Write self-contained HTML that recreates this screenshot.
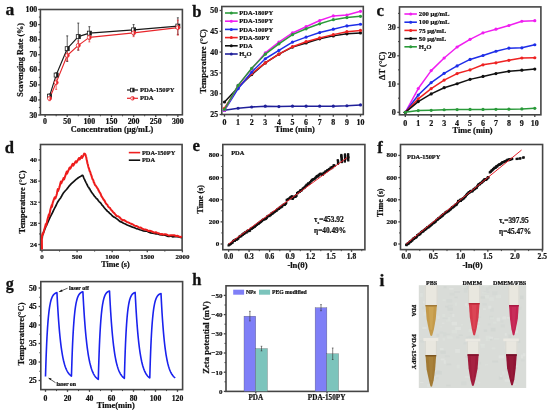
<!DOCTYPE html>
<html><head><meta charset="utf-8"><style>
html,body{margin:0;padding:0;background:#fff;}
svg{display:block;filter:blur(0.4px);}
text{font-family:"Liberation Serif", serif;}
</style></head><body>
<svg width="550" height="414" viewBox="0 0 550 414">
<rect width="550" height="414" fill="#fff"/>
<text x="5.50" y="15.20" font-size="17.6" text-anchor="start" fill="#111" stroke="#111" stroke-width="0.3" font-weight="bold">a</text>
<text x="192.30" y="16.50" font-size="16.6" text-anchor="start" fill="#111" stroke="#111" stroke-width="0.3" font-weight="bold">b</text>
<text x="376.50" y="15.50" font-size="16.8" text-anchor="start" fill="#111" stroke="#111" stroke-width="0.3" font-weight="bold">c</text>
<text x="4.80" y="152.50" font-size="16.6" text-anchor="start" fill="#111" stroke="#111" stroke-width="0.3" font-weight="bold">d</text>
<text x="192.60" y="150.50" font-size="16.8" text-anchor="start" fill="#111" stroke="#111" stroke-width="0.3" font-weight="bold">e</text>
<text x="377.30" y="152.50" font-size="16.6" text-anchor="start" fill="#111" stroke="#111" stroke-width="0.3" font-weight="bold">f</text>
<text x="5.80" y="288.90" font-size="16" text-anchor="start" fill="#111" stroke="#111" stroke-width="0.3" font-weight="bold">g</text>
<text x="192.30" y="285.40" font-size="16.4" text-anchor="start" fill="#111" stroke="#111" stroke-width="0.3" font-weight="bold">h</text>
<text x="379.50" y="285.80" font-size="17.5" text-anchor="start" fill="#111" stroke="#111" stroke-width="0.3" font-weight="bold">i</text>
<rect x="40.4" y="9.5" width="142.0" height="105.3" fill="none" stroke="#454545" stroke-width="1.6"/>
<line x1="38.20" y1="115.00" x2="40.40" y2="115.00" stroke="#454545" stroke-width="1.3"/>
<text x="37.30" y="117.50" font-size="7.9" text-anchor="end" fill="#111" stroke="#111" stroke-width="0.22" font-weight="bold">30</text>
<line x1="38.20" y1="99.93" x2="40.40" y2="99.93" stroke="#454545" stroke-width="1.3"/>
<text x="37.30" y="102.43" font-size="7.9" text-anchor="end" fill="#111" stroke="#111" stroke-width="0.22" font-weight="bold">40</text>
<line x1="38.20" y1="84.86" x2="40.40" y2="84.86" stroke="#454545" stroke-width="1.3"/>
<text x="37.30" y="87.36" font-size="7.9" text-anchor="end" fill="#111" stroke="#111" stroke-width="0.22" font-weight="bold">50</text>
<line x1="38.20" y1="69.79" x2="40.40" y2="69.79" stroke="#454545" stroke-width="1.3"/>
<text x="37.30" y="72.29" font-size="7.9" text-anchor="end" fill="#111" stroke="#111" stroke-width="0.22" font-weight="bold">60</text>
<line x1="38.20" y1="54.72" x2="40.40" y2="54.72" stroke="#454545" stroke-width="1.3"/>
<text x="37.30" y="57.22" font-size="7.9" text-anchor="end" fill="#111" stroke="#111" stroke-width="0.22" font-weight="bold">70</text>
<line x1="38.20" y1="39.65" x2="40.40" y2="39.65" stroke="#454545" stroke-width="1.3"/>
<text x="37.30" y="42.15" font-size="7.9" text-anchor="end" fill="#111" stroke="#111" stroke-width="0.22" font-weight="bold">80</text>
<line x1="38.20" y1="24.58" x2="40.40" y2="24.58" stroke="#454545" stroke-width="1.3"/>
<text x="37.30" y="27.08" font-size="7.9" text-anchor="end" fill="#111" stroke="#111" stroke-width="0.22" font-weight="bold">90</text>
<line x1="38.20" y1="9.51" x2="40.40" y2="9.51" stroke="#454545" stroke-width="1.3"/>
<text x="37.30" y="12.01" font-size="7.9" text-anchor="end" fill="#111" stroke="#111" stroke-width="0.22" font-weight="bold">100</text>
<line x1="38.90" y1="107.47" x2="40.40" y2="107.47" stroke="#454545" stroke-width="1"/>
<line x1="38.90" y1="92.40" x2="40.40" y2="92.40" stroke="#454545" stroke-width="1"/>
<line x1="38.90" y1="77.33" x2="40.40" y2="77.33" stroke="#454545" stroke-width="1"/>
<line x1="38.90" y1="62.26" x2="40.40" y2="62.26" stroke="#454545" stroke-width="1"/>
<line x1="38.90" y1="47.19" x2="40.40" y2="47.19" stroke="#454545" stroke-width="1"/>
<line x1="38.90" y1="32.12" x2="40.40" y2="32.12" stroke="#454545" stroke-width="1"/>
<line x1="38.90" y1="17.05" x2="40.40" y2="17.05" stroke="#454545" stroke-width="1"/>
<line x1="45.10" y1="114.80" x2="45.10" y2="117.00" stroke="#454545" stroke-width="1.3"/>
<text x="45.10" y="124.20" font-size="7.9" text-anchor="middle" fill="#111" stroke="#111" stroke-width="0.22" font-weight="bold">0</text>
<line x1="67.22" y1="114.80" x2="67.22" y2="117.00" stroke="#454545" stroke-width="1.3"/>
<text x="67.22" y="124.20" font-size="7.9" text-anchor="middle" fill="#111" stroke="#111" stroke-width="0.22" font-weight="bold">50</text>
<line x1="89.35" y1="114.80" x2="89.35" y2="117.00" stroke="#454545" stroke-width="1.3"/>
<text x="89.35" y="124.20" font-size="7.9" text-anchor="middle" fill="#111" stroke="#111" stroke-width="0.22" font-weight="bold">100</text>
<line x1="111.47" y1="114.80" x2="111.47" y2="117.00" stroke="#454545" stroke-width="1.3"/>
<text x="111.47" y="124.20" font-size="7.9" text-anchor="middle" fill="#111" stroke="#111" stroke-width="0.22" font-weight="bold">150</text>
<line x1="133.60" y1="114.80" x2="133.60" y2="117.00" stroke="#454545" stroke-width="1.3"/>
<text x="133.60" y="124.20" font-size="7.9" text-anchor="middle" fill="#111" stroke="#111" stroke-width="0.22" font-weight="bold">200</text>
<line x1="155.72" y1="114.80" x2="155.72" y2="117.00" stroke="#454545" stroke-width="1.3"/>
<text x="155.72" y="124.20" font-size="7.9" text-anchor="middle" fill="#111" stroke="#111" stroke-width="0.22" font-weight="bold">250</text>
<line x1="177.85" y1="114.80" x2="177.85" y2="117.00" stroke="#454545" stroke-width="1.3"/>
<text x="177.85" y="124.20" font-size="7.9" text-anchor="middle" fill="#111" stroke="#111" stroke-width="0.22" font-weight="bold">300</text>
<line x1="56.16" y1="114.80" x2="56.16" y2="116.30" stroke="#454545" stroke-width="1"/>
<line x1="78.29" y1="114.80" x2="78.29" y2="116.30" stroke="#454545" stroke-width="1"/>
<line x1="100.41" y1="114.80" x2="100.41" y2="116.30" stroke="#454545" stroke-width="1"/>
<line x1="122.54" y1="114.80" x2="122.54" y2="116.30" stroke="#454545" stroke-width="1"/>
<line x1="144.66" y1="114.80" x2="144.66" y2="116.30" stroke="#454545" stroke-width="1"/>
<line x1="166.79" y1="114.80" x2="166.79" y2="116.30" stroke="#454545" stroke-width="1"/>
<text x="23.00" y="59.80" font-size="8.2" text-anchor="middle" fill="#111" stroke="#111" stroke-width="0.22" font-weight="bold" transform="rotate(-90 23 59.8)">Scavenging Rate (%)</text>
<text x="112.00" y="132.00" font-size="8.3" text-anchor="middle" fill="#111" stroke="#111" stroke-width="0.22" font-weight="bold">Concentration (μg/mL)</text>
<line x1="49.52" y1="98.42" x2="49.52" y2="93.90" stroke="#1a1a1a" stroke-width="0.7"/>
<line x1="48.52" y1="98.42" x2="50.52" y2="98.42" stroke="#1a1a1a" stroke-width="0.7"/>
<line x1="48.52" y1="93.90" x2="50.52" y2="93.90" stroke="#1a1a1a" stroke-width="0.7"/>
<line x1="56.16" y1="77.33" x2="56.16" y2="72.80" stroke="#1a1a1a" stroke-width="0.7"/>
<line x1="55.16" y1="77.33" x2="57.16" y2="77.33" stroke="#1a1a1a" stroke-width="0.7"/>
<line x1="55.16" y1="72.80" x2="57.16" y2="72.80" stroke="#1a1a1a" stroke-width="0.7"/>
<line x1="67.22" y1="61.50" x2="67.22" y2="35.88" stroke="#1a1a1a" stroke-width="0.7"/>
<line x1="66.22" y1="61.50" x2="68.22" y2="61.50" stroke="#1a1a1a" stroke-width="0.7"/>
<line x1="66.22" y1="35.88" x2="68.22" y2="35.88" stroke="#1a1a1a" stroke-width="0.7"/>
<line x1="78.29" y1="50.20" x2="78.29" y2="23.07" stroke="#1a1a1a" stroke-width="0.7"/>
<line x1="77.29" y1="50.20" x2="79.29" y2="50.20" stroke="#1a1a1a" stroke-width="0.7"/>
<line x1="77.29" y1="23.07" x2="79.29" y2="23.07" stroke="#1a1a1a" stroke-width="0.7"/>
<line x1="89.35" y1="39.65" x2="89.35" y2="26.69" stroke="#1a1a1a" stroke-width="0.7"/>
<line x1="88.35" y1="39.65" x2="90.35" y2="39.65" stroke="#1a1a1a" stroke-width="0.7"/>
<line x1="88.35" y1="26.69" x2="90.35" y2="26.69" stroke="#1a1a1a" stroke-width="0.7"/>
<line x1="133.60" y1="35.13" x2="133.60" y2="24.58" stroke="#1a1a1a" stroke-width="0.7"/>
<line x1="132.60" y1="35.13" x2="134.60" y2="35.13" stroke="#1a1a1a" stroke-width="0.7"/>
<line x1="132.60" y1="24.58" x2="134.60" y2="24.58" stroke="#1a1a1a" stroke-width="0.7"/>
<line x1="177.85" y1="34.38" x2="177.85" y2="17.80" stroke="#1a1a1a" stroke-width="0.7"/>
<line x1="176.85" y1="34.38" x2="178.85" y2="34.38" stroke="#1a1a1a" stroke-width="0.7"/>
<line x1="176.85" y1="17.80" x2="178.85" y2="17.80" stroke="#1a1a1a" stroke-width="0.7"/>
<line x1="49.52" y1="100.68" x2="49.52" y2="96.16" stroke="#e8252a" stroke-width="0.7"/>
<line x1="48.52" y1="100.68" x2="50.52" y2="100.68" stroke="#e8252a" stroke-width="0.7"/>
<line x1="48.52" y1="96.16" x2="50.52" y2="96.16" stroke="#e8252a" stroke-width="0.7"/>
<line x1="56.16" y1="89.38" x2="56.16" y2="75.82" stroke="#e8252a" stroke-width="0.7"/>
<line x1="55.16" y1="89.38" x2="57.16" y2="89.38" stroke="#e8252a" stroke-width="0.7"/>
<line x1="55.16" y1="75.82" x2="57.16" y2="75.82" stroke="#e8252a" stroke-width="0.7"/>
<line x1="67.22" y1="60.75" x2="67.22" y2="50.20" stroke="#e8252a" stroke-width="0.7"/>
<line x1="66.22" y1="60.75" x2="68.22" y2="60.75" stroke="#e8252a" stroke-width="0.7"/>
<line x1="66.22" y1="50.20" x2="68.22" y2="50.20" stroke="#e8252a" stroke-width="0.7"/>
<line x1="78.29" y1="49.90" x2="78.29" y2="40.86" stroke="#e8252a" stroke-width="0.7"/>
<line x1="77.29" y1="49.90" x2="79.29" y2="49.90" stroke="#e8252a" stroke-width="0.7"/>
<line x1="77.29" y1="40.86" x2="79.29" y2="40.86" stroke="#e8252a" stroke-width="0.7"/>
<line x1="89.35" y1="41.91" x2="89.35" y2="32.87" stroke="#e8252a" stroke-width="0.7"/>
<line x1="88.35" y1="41.91" x2="90.35" y2="41.91" stroke="#e8252a" stroke-width="0.7"/>
<line x1="88.35" y1="32.87" x2="90.35" y2="32.87" stroke="#e8252a" stroke-width="0.7"/>
<line x1="133.60" y1="36.64" x2="133.60" y2="29.10" stroke="#e8252a" stroke-width="0.7"/>
<line x1="132.60" y1="36.64" x2="134.60" y2="36.64" stroke="#e8252a" stroke-width="0.7"/>
<line x1="132.60" y1="29.10" x2="134.60" y2="29.10" stroke="#e8252a" stroke-width="0.7"/>
<line x1="177.85" y1="35.13" x2="177.85" y2="20.06" stroke="#e8252a" stroke-width="0.7"/>
<line x1="176.85" y1="35.13" x2="178.85" y2="35.13" stroke="#e8252a" stroke-width="0.7"/>
<line x1="176.85" y1="20.06" x2="178.85" y2="20.06" stroke="#e8252a" stroke-width="0.7"/>
<polyline points="49.52,96.16 56.16,75.06 67.22,48.69 78.29,36.64 89.35,33.17 133.60,29.85 177.85,26.09" fill="none" stroke="#1a1a1a" stroke-width="1.15" stroke-linejoin="round"/>
<polyline points="49.52,98.42 56.16,82.60 67.22,55.47 78.29,45.38 89.35,37.39 133.60,32.87 177.85,27.59" fill="none" stroke="#e8252a" stroke-width="1.15" stroke-linejoin="round"/>
<rect x="47.52" y="94.16" width="4" height="4" fill="#fff" stroke="#1a1a1a" stroke-width="0.8"/>
<rect x="49.52" y="94.16" width="2.00" height="4.00" fill="#1a1a1a"/>
<rect x="54.16" y="73.06" width="4" height="4" fill="#fff" stroke="#1a1a1a" stroke-width="0.8"/>
<rect x="56.16" y="73.06" width="2.00" height="4.00" fill="#1a1a1a"/>
<rect x="65.22" y="46.69" width="4" height="4" fill="#fff" stroke="#1a1a1a" stroke-width="0.8"/>
<rect x="67.22" y="46.69" width="2.00" height="4.00" fill="#1a1a1a"/>
<rect x="76.29" y="34.64" width="4" height="4" fill="#fff" stroke="#1a1a1a" stroke-width="0.8"/>
<rect x="78.29" y="34.64" width="2.00" height="4.00" fill="#1a1a1a"/>
<rect x="87.35" y="31.17" width="4" height="4" fill="#fff" stroke="#1a1a1a" stroke-width="0.8"/>
<rect x="89.35" y="31.17" width="2.00" height="4.00" fill="#1a1a1a"/>
<rect x="131.60" y="27.85" width="4" height="4" fill="#fff" stroke="#1a1a1a" stroke-width="0.8"/>
<rect x="133.60" y="27.85" width="2.00" height="4.00" fill="#1a1a1a"/>
<rect x="175.85" y="24.09" width="4" height="4" fill="#fff" stroke="#1a1a1a" stroke-width="0.8"/>
<rect x="177.85" y="24.09" width="2.00" height="4.00" fill="#1a1a1a"/>
<circle cx="49.52" cy="98.42" r="2" fill="#fff" stroke="#e8252a" stroke-width="0.8"/>
<path d="M49.52,96.42 A2,2 0 0 1 49.52,100.42 Z" fill="#e8252a"/>
<circle cx="56.16" cy="82.60" r="2" fill="#fff" stroke="#e8252a" stroke-width="0.8"/>
<path d="M56.16,80.60 A2,2 0 0 1 56.16,84.60 Z" fill="#e8252a"/>
<circle cx="67.22" cy="55.47" r="2" fill="#fff" stroke="#e8252a" stroke-width="0.8"/>
<path d="M67.22,53.47 A2,2 0 0 1 67.22,57.47 Z" fill="#e8252a"/>
<circle cx="78.29" cy="45.38" r="2" fill="#fff" stroke="#e8252a" stroke-width="0.8"/>
<path d="M78.29,43.38 A2,2 0 0 1 78.29,47.38 Z" fill="#e8252a"/>
<circle cx="89.35" cy="37.39" r="2" fill="#fff" stroke="#e8252a" stroke-width="0.8"/>
<path d="M89.35,35.39 A2,2 0 0 1 89.35,39.39 Z" fill="#e8252a"/>
<circle cx="133.60" cy="32.87" r="2" fill="#fff" stroke="#e8252a" stroke-width="0.8"/>
<path d="M133.60,30.87 A2,2 0 0 1 133.60,34.87 Z" fill="#e8252a"/>
<circle cx="177.85" cy="27.59" r="2" fill="#fff" stroke="#e8252a" stroke-width="0.8"/>
<path d="M177.85,25.59 A2,2 0 0 1 177.85,29.59 Z" fill="#e8252a"/>
<line x1="127.00" y1="90.00" x2="138.00" y2="90.00" stroke="#1a1a1a" stroke-width="1.2"/>
<rect x="130.5" y="88.2" width="3.6" height="3.6" fill="#fff" stroke="#1a1a1a" stroke-width="0.8"/>
<rect x="132.30" y="88.20" width="1.80" height="3.60" fill="#1a1a1a"/>
<text x="140.00" y="92.00" font-size="6.6" text-anchor="start" fill="#111" stroke="#111" stroke-width="0.22" font-weight="bold">PDA-150PY</text>
<line x1="127.00" y1="98.30" x2="138.00" y2="98.30" stroke="#e8252a" stroke-width="1.2"/>
<circle cx="132.5" cy="98.3" r="1.8" fill="#fff" stroke="#e8252a" stroke-width="0.8"/>
<path d="M132.5,96.5 A1.8,1.8 0 0 1 132.5,100.1 Z" fill="#e8252a"/>
<text x="140.00" y="100.00" font-size="6.6" text-anchor="start" fill="#111" stroke="#111" stroke-width="0.22" font-weight="bold">PDA</text>
<rect x="221.8" y="6.5" width="141.5" height="108.0" fill="none" stroke="#454545" stroke-width="1.6"/>
<line x1="219.60" y1="114.50" x2="221.80" y2="114.50" stroke="#454545" stroke-width="1.3"/>
<text x="218.10" y="117.10" font-size="7.8" text-anchor="end" fill="#111" stroke="#111" stroke-width="0.22" font-weight="bold">25</text>
<line x1="219.60" y1="93.70" x2="221.80" y2="93.70" stroke="#454545" stroke-width="1.3"/>
<text x="218.10" y="96.30" font-size="7.8" text-anchor="end" fill="#111" stroke="#111" stroke-width="0.22" font-weight="bold">30</text>
<line x1="219.60" y1="72.90" x2="221.80" y2="72.90" stroke="#454545" stroke-width="1.3"/>
<text x="218.10" y="75.50" font-size="7.8" text-anchor="end" fill="#111" stroke="#111" stroke-width="0.22" font-weight="bold">35</text>
<line x1="219.60" y1="52.10" x2="221.80" y2="52.10" stroke="#454545" stroke-width="1.3"/>
<text x="218.10" y="54.70" font-size="7.8" text-anchor="end" fill="#111" stroke="#111" stroke-width="0.22" font-weight="bold">40</text>
<line x1="219.60" y1="31.30" x2="221.80" y2="31.30" stroke="#454545" stroke-width="1.3"/>
<text x="218.10" y="33.90" font-size="7.8" text-anchor="end" fill="#111" stroke="#111" stroke-width="0.22" font-weight="bold">45</text>
<line x1="219.60" y1="10.50" x2="221.80" y2="10.50" stroke="#454545" stroke-width="1.3"/>
<text x="218.10" y="13.10" font-size="7.8" text-anchor="end" fill="#111" stroke="#111" stroke-width="0.22" font-weight="bold">50</text>
<line x1="220.30" y1="104.10" x2="221.80" y2="104.10" stroke="#454545" stroke-width="1"/>
<line x1="220.30" y1="83.30" x2="221.80" y2="83.30" stroke="#454545" stroke-width="1"/>
<line x1="220.30" y1="62.50" x2="221.80" y2="62.50" stroke="#454545" stroke-width="1"/>
<line x1="220.30" y1="41.70" x2="221.80" y2="41.70" stroke="#454545" stroke-width="1"/>
<line x1="220.30" y1="20.90" x2="221.80" y2="20.90" stroke="#454545" stroke-width="1"/>
<line x1="224.50" y1="114.50" x2="224.50" y2="116.70" stroke="#454545" stroke-width="1.3"/>
<text x="224.50" y="125.20" font-size="7.9" text-anchor="middle" fill="#111" stroke="#111" stroke-width="0.22" font-weight="bold">0</text>
<line x1="238.10" y1="114.50" x2="238.10" y2="116.70" stroke="#454545" stroke-width="1.3"/>
<text x="238.10" y="125.20" font-size="7.9" text-anchor="middle" fill="#111" stroke="#111" stroke-width="0.22" font-weight="bold">1</text>
<line x1="251.70" y1="114.50" x2="251.70" y2="116.70" stroke="#454545" stroke-width="1.3"/>
<text x="251.70" y="125.20" font-size="7.9" text-anchor="middle" fill="#111" stroke="#111" stroke-width="0.22" font-weight="bold">2</text>
<line x1="265.30" y1="114.50" x2="265.30" y2="116.70" stroke="#454545" stroke-width="1.3"/>
<text x="265.30" y="125.20" font-size="7.9" text-anchor="middle" fill="#111" stroke="#111" stroke-width="0.22" font-weight="bold">3</text>
<line x1="278.90" y1="114.50" x2="278.90" y2="116.70" stroke="#454545" stroke-width="1.3"/>
<text x="278.90" y="125.20" font-size="7.9" text-anchor="middle" fill="#111" stroke="#111" stroke-width="0.22" font-weight="bold">4</text>
<line x1="292.50" y1="114.50" x2="292.50" y2="116.70" stroke="#454545" stroke-width="1.3"/>
<text x="292.50" y="125.20" font-size="7.9" text-anchor="middle" fill="#111" stroke="#111" stroke-width="0.22" font-weight="bold">5</text>
<line x1="306.10" y1="114.50" x2="306.10" y2="116.70" stroke="#454545" stroke-width="1.3"/>
<text x="306.10" y="125.20" font-size="7.9" text-anchor="middle" fill="#111" stroke="#111" stroke-width="0.22" font-weight="bold">6</text>
<line x1="319.70" y1="114.50" x2="319.70" y2="116.70" stroke="#454545" stroke-width="1.3"/>
<text x="319.70" y="125.20" font-size="7.9" text-anchor="middle" fill="#111" stroke="#111" stroke-width="0.22" font-weight="bold">7</text>
<line x1="333.30" y1="114.50" x2="333.30" y2="116.70" stroke="#454545" stroke-width="1.3"/>
<text x="333.30" y="125.20" font-size="7.9" text-anchor="middle" fill="#111" stroke="#111" stroke-width="0.22" font-weight="bold">8</text>
<line x1="346.90" y1="114.50" x2="346.90" y2="116.70" stroke="#454545" stroke-width="1.3"/>
<text x="346.90" y="125.20" font-size="7.9" text-anchor="middle" fill="#111" stroke="#111" stroke-width="0.22" font-weight="bold">9</text>
<line x1="360.50" y1="114.50" x2="360.50" y2="116.70" stroke="#454545" stroke-width="1.3"/>
<text x="360.50" y="125.20" font-size="7.9" text-anchor="middle" fill="#111" stroke="#111" stroke-width="0.22" font-weight="bold">10</text>
<text x="205.80" y="61.30" font-size="8.5" text-anchor="middle" fill="#111" stroke="#111" stroke-width="0.22" font-weight="bold" transform="rotate(-90 205.8 61.3)">Temperature (°C)</text>
<text x="294.80" y="132.30" font-size="8.4" text-anchor="middle" fill="#111" stroke="#111" stroke-width="0.22" font-weight="bold">Time (min)</text>
<polyline points="224.50,110.34 238.10,108.26 251.70,107.01 265.30,106.18 278.90,106.60 292.50,106.18 306.10,106.18 319.70,106.18 333.30,106.18 346.90,105.76 360.50,104.93" fill="none" stroke="#20209a" stroke-width="1.5" stroke-linejoin="round"/>
<circle cx="224.50" cy="110.34" r="1.6" fill="#20209a"/>
<circle cx="238.10" cy="108.26" r="1.6" fill="#20209a"/>
<circle cx="251.70" cy="107.01" r="1.6" fill="#20209a"/>
<circle cx="265.30" cy="106.18" r="1.6" fill="#20209a"/>
<circle cx="278.90" cy="106.60" r="1.6" fill="#20209a"/>
<circle cx="292.50" cy="106.18" r="1.6" fill="#20209a"/>
<circle cx="306.10" cy="106.18" r="1.6" fill="#20209a"/>
<circle cx="319.70" cy="106.18" r="1.6" fill="#20209a"/>
<circle cx="333.30" cy="106.18" r="1.6" fill="#20209a"/>
<circle cx="346.90" cy="105.76" r="1.6" fill="#20209a"/>
<circle cx="360.50" cy="104.93" r="1.6" fill="#20209a"/>
<polyline points="224.50,102.02 238.10,87.46 251.70,74.56 265.30,62.92 278.90,54.18 292.50,47.11 306.10,42.95 319.70,38.79 333.30,35.88 346.90,33.80 360.50,32.96" fill="none" stroke="#111111" stroke-width="1.5" stroke-linejoin="round"/>
<circle cx="224.50" cy="102.02" r="1.6" fill="#111111"/>
<circle cx="238.10" cy="87.46" r="1.6" fill="#111111"/>
<circle cx="251.70" cy="74.56" r="1.6" fill="#111111"/>
<circle cx="265.30" cy="62.92" r="1.6" fill="#111111"/>
<circle cx="278.90" cy="54.18" r="1.6" fill="#111111"/>
<circle cx="292.50" cy="47.11" r="1.6" fill="#111111"/>
<circle cx="306.10" cy="42.95" r="1.6" fill="#111111"/>
<circle cx="319.70" cy="38.79" r="1.6" fill="#111111"/>
<circle cx="333.30" cy="35.88" r="1.6" fill="#111111"/>
<circle cx="346.90" cy="33.80" r="1.6" fill="#111111"/>
<circle cx="360.50" cy="32.96" r="1.6" fill="#111111"/>
<polyline points="224.50,108.26 238.10,87.04 251.70,73.73 265.30,62.92 278.90,54.18 292.50,46.69 306.10,41.70 319.70,37.96 333.30,34.63 346.90,31.72 360.50,30.47" fill="none" stroke="#ee2222" stroke-width="1.5" stroke-linejoin="round"/>
<circle cx="224.50" cy="108.26" r="1.6" fill="#ee2222"/>
<circle cx="238.10" cy="87.04" r="1.6" fill="#ee2222"/>
<circle cx="251.70" cy="73.73" r="1.6" fill="#ee2222"/>
<circle cx="265.30" cy="62.92" r="1.6" fill="#ee2222"/>
<circle cx="278.90" cy="54.18" r="1.6" fill="#ee2222"/>
<circle cx="292.50" cy="46.69" r="1.6" fill="#ee2222"/>
<circle cx="306.10" cy="41.70" r="1.6" fill="#ee2222"/>
<circle cx="319.70" cy="37.96" r="1.6" fill="#ee2222"/>
<circle cx="333.30" cy="34.63" r="1.6" fill="#ee2222"/>
<circle cx="346.90" cy="31.72" r="1.6" fill="#ee2222"/>
<circle cx="360.50" cy="30.47" r="1.6" fill="#ee2222"/>
<polyline points="224.50,110.34 238.10,88.71 251.70,72.07 265.30,58.76 278.90,50.44 292.50,42.12 306.10,37.12 319.70,32.55 333.30,29.22 346.90,25.89 360.50,24.23" fill="none" stroke="#1e2ee8" stroke-width="1.5" stroke-linejoin="round"/>
<circle cx="224.50" cy="110.34" r="1.6" fill="#1e2ee8"/>
<circle cx="238.10" cy="88.71" r="1.6" fill="#1e2ee8"/>
<circle cx="251.70" cy="72.07" r="1.6" fill="#1e2ee8"/>
<circle cx="265.30" cy="58.76" r="1.6" fill="#1e2ee8"/>
<circle cx="278.90" cy="50.44" r="1.6" fill="#1e2ee8"/>
<circle cx="292.50" cy="42.12" r="1.6" fill="#1e2ee8"/>
<circle cx="306.10" cy="37.12" r="1.6" fill="#1e2ee8"/>
<circle cx="319.70" cy="32.55" r="1.6" fill="#1e2ee8"/>
<circle cx="333.30" cy="29.22" r="1.6" fill="#1e2ee8"/>
<circle cx="346.90" cy="25.89" r="1.6" fill="#1e2ee8"/>
<circle cx="360.50" cy="24.23" r="1.6" fill="#1e2ee8"/>
<polyline points="224.50,110.34 238.10,85.38 251.70,68.74 265.30,52.93 278.90,42.12 292.50,32.96 306.10,26.72 319.70,20.48 333.30,15.91 346.90,15.08 360.50,11.33" fill="none" stroke="#f01ef0" stroke-width="1.5" stroke-linejoin="round"/>
<circle cx="224.50" cy="110.34" r="1.6" fill="#f01ef0"/>
<circle cx="238.10" cy="85.38" r="1.6" fill="#f01ef0"/>
<circle cx="251.70" cy="68.74" r="1.6" fill="#f01ef0"/>
<circle cx="265.30" cy="52.93" r="1.6" fill="#f01ef0"/>
<circle cx="278.90" cy="42.12" r="1.6" fill="#f01ef0"/>
<circle cx="292.50" cy="32.96" r="1.6" fill="#f01ef0"/>
<circle cx="306.10" cy="26.72" r="1.6" fill="#f01ef0"/>
<circle cx="319.70" cy="20.48" r="1.6" fill="#f01ef0"/>
<circle cx="333.30" cy="15.91" r="1.6" fill="#f01ef0"/>
<circle cx="346.90" cy="15.08" r="1.6" fill="#f01ef0"/>
<circle cx="360.50" cy="11.33" r="1.6" fill="#f01ef0"/>
<polyline points="224.50,109.51 238.10,85.38 251.70,68.32 265.30,54.18 278.90,43.78 292.50,34.63 306.10,28.80 319.70,23.81 333.30,19.65 346.90,17.57 360.50,16.32" fill="none" stroke="#2a9a3a" stroke-width="1.5" stroke-linejoin="round"/>
<circle cx="224.50" cy="109.51" r="1.6" fill="#2a9a3a"/>
<circle cx="238.10" cy="85.38" r="1.6" fill="#2a9a3a"/>
<circle cx="251.70" cy="68.32" r="1.6" fill="#2a9a3a"/>
<circle cx="265.30" cy="54.18" r="1.6" fill="#2a9a3a"/>
<circle cx="278.90" cy="43.78" r="1.6" fill="#2a9a3a"/>
<circle cx="292.50" cy="34.63" r="1.6" fill="#2a9a3a"/>
<circle cx="306.10" cy="28.80" r="1.6" fill="#2a9a3a"/>
<circle cx="319.70" cy="23.81" r="1.6" fill="#2a9a3a"/>
<circle cx="333.30" cy="19.65" r="1.6" fill="#2a9a3a"/>
<circle cx="346.90" cy="17.57" r="1.6" fill="#2a9a3a"/>
<circle cx="360.50" cy="16.32" r="1.6" fill="#2a9a3a"/>
<line x1="225.00" y1="13.00" x2="237.70" y2="13.00" stroke="#2a9a3a" stroke-width="1.6"/>
<circle cx="231.3" cy="13.0" r="1.5" fill="#2a9a3a"/>
<text x="239.30" y="15.10" font-size="6.5" text-anchor="start" fill="#111" stroke="#111" stroke-width="0.22" font-weight="bold">PDA-180PY</text>
<line x1="225.00" y1="21.20" x2="237.70" y2="21.20" stroke="#f01ef0" stroke-width="1.6"/>
<circle cx="231.3" cy="21.2" r="1.5" fill="#f01ef0"/>
<text x="239.30" y="23.30" font-size="6.5" text-anchor="start" fill="#111" stroke="#111" stroke-width="0.22" font-weight="bold">PDA-150PY</text>
<line x1="225.00" y1="29.40" x2="237.70" y2="29.40" stroke="#1e2ee8" stroke-width="1.6"/>
<circle cx="231.3" cy="29.4" r="1.5" fill="#1e2ee8"/>
<text x="239.30" y="31.50" font-size="6.5" text-anchor="start" fill="#111" stroke="#111" stroke-width="0.22" font-weight="bold">PDA-100PY</text>
<line x1="225.00" y1="37.60" x2="237.70" y2="37.60" stroke="#ee2222" stroke-width="1.6"/>
<circle cx="231.3" cy="37.599999999999994" r="1.5" fill="#ee2222"/>
<text x="239.30" y="39.70" font-size="6.5" text-anchor="start" fill="#111" stroke="#111" stroke-width="0.22" font-weight="bold">PDA-50PY</text>
<line x1="225.00" y1="45.80" x2="237.70" y2="45.80" stroke="#111111" stroke-width="1.6"/>
<circle cx="231.3" cy="45.8" r="1.5" fill="#111111"/>
<text x="239.30" y="47.90" font-size="6.5" text-anchor="start" fill="#111" stroke="#111" stroke-width="0.22" font-weight="bold">PDA</text>
<line x1="225.00" y1="54.00" x2="237.70" y2="54.00" stroke="#20209a" stroke-width="1.6"/>
<circle cx="231.3" cy="54.0" r="1.5" fill="#20209a"/>
<text x="239.30" y="56.10" font-size="6.5" text-anchor="start" fill="#111" stroke="#111" stroke-width="0.22" font-weight="bold">H<tspan font-size="4.5" dy="1.5">2</tspan><tspan dy="-1.5">O</tspan></text>
<rect x="399.5" y="6.9" width="141.39999999999998" height="107.89999999999999" fill="none" stroke="#454545" stroke-width="1.6"/>
<line x1="397.30" y1="112.30" x2="399.50" y2="112.30" stroke="#454545" stroke-width="1.3"/>
<text x="395.90" y="115.00" font-size="8.2" text-anchor="end" fill="#111" stroke="#111" stroke-width="0.22" font-weight="bold">0</text>
<line x1="397.30" y1="84.03" x2="399.50" y2="84.03" stroke="#454545" stroke-width="1.3"/>
<text x="395.90" y="86.73" font-size="8.2" text-anchor="end" fill="#111" stroke="#111" stroke-width="0.22" font-weight="bold">10</text>
<line x1="397.30" y1="55.76" x2="399.50" y2="55.76" stroke="#454545" stroke-width="1.3"/>
<text x="395.90" y="58.46" font-size="8.2" text-anchor="end" fill="#111" stroke="#111" stroke-width="0.22" font-weight="bold">20</text>
<line x1="397.30" y1="27.49" x2="399.50" y2="27.49" stroke="#454545" stroke-width="1.3"/>
<text x="395.90" y="30.19" font-size="8.2" text-anchor="end" fill="#111" stroke="#111" stroke-width="0.22" font-weight="bold">30</text>
<line x1="398.00" y1="98.16" x2="399.50" y2="98.16" stroke="#454545" stroke-width="1"/>
<line x1="398.00" y1="69.89" x2="399.50" y2="69.89" stroke="#454545" stroke-width="1"/>
<line x1="398.00" y1="41.62" x2="399.50" y2="41.62" stroke="#454545" stroke-width="1"/>
<line x1="398.00" y1="13.36" x2="399.50" y2="13.36" stroke="#454545" stroke-width="1"/>
<line x1="405.30" y1="114.80" x2="405.30" y2="117.00" stroke="#454545" stroke-width="1.3"/>
<text x="405.30" y="125.70" font-size="8" text-anchor="middle" fill="#111" stroke="#111" stroke-width="0.22" font-weight="bold">0</text>
<line x1="418.25" y1="114.80" x2="418.25" y2="117.00" stroke="#454545" stroke-width="1.3"/>
<text x="418.25" y="125.70" font-size="8" text-anchor="middle" fill="#111" stroke="#111" stroke-width="0.22" font-weight="bold">1</text>
<line x1="431.20" y1="114.80" x2="431.20" y2="117.00" stroke="#454545" stroke-width="1.3"/>
<text x="431.20" y="125.70" font-size="8" text-anchor="middle" fill="#111" stroke="#111" stroke-width="0.22" font-weight="bold">2</text>
<line x1="444.15" y1="114.80" x2="444.15" y2="117.00" stroke="#454545" stroke-width="1.3"/>
<text x="444.15" y="125.70" font-size="8" text-anchor="middle" fill="#111" stroke="#111" stroke-width="0.22" font-weight="bold">3</text>
<line x1="457.10" y1="114.80" x2="457.10" y2="117.00" stroke="#454545" stroke-width="1.3"/>
<text x="457.10" y="125.70" font-size="8" text-anchor="middle" fill="#111" stroke="#111" stroke-width="0.22" font-weight="bold">4</text>
<line x1="470.05" y1="114.80" x2="470.05" y2="117.00" stroke="#454545" stroke-width="1.3"/>
<text x="470.05" y="125.70" font-size="8" text-anchor="middle" fill="#111" stroke="#111" stroke-width="0.22" font-weight="bold">5</text>
<line x1="483.00" y1="114.80" x2="483.00" y2="117.00" stroke="#454545" stroke-width="1.3"/>
<text x="483.00" y="125.70" font-size="8" text-anchor="middle" fill="#111" stroke="#111" stroke-width="0.22" font-weight="bold">6</text>
<line x1="495.95" y1="114.80" x2="495.95" y2="117.00" stroke="#454545" stroke-width="1.3"/>
<text x="495.95" y="125.70" font-size="8" text-anchor="middle" fill="#111" stroke="#111" stroke-width="0.22" font-weight="bold">7</text>
<line x1="508.90" y1="114.80" x2="508.90" y2="117.00" stroke="#454545" stroke-width="1.3"/>
<text x="508.90" y="125.70" font-size="8" text-anchor="middle" fill="#111" stroke="#111" stroke-width="0.22" font-weight="bold">8</text>
<line x1="521.85" y1="114.80" x2="521.85" y2="117.00" stroke="#454545" stroke-width="1.3"/>
<text x="521.85" y="125.70" font-size="8" text-anchor="middle" fill="#111" stroke="#111" stroke-width="0.22" font-weight="bold">9</text>
<line x1="534.80" y1="114.80" x2="534.80" y2="117.00" stroke="#454545" stroke-width="1.3"/>
<text x="534.80" y="125.70" font-size="8" text-anchor="middle" fill="#111" stroke="#111" stroke-width="0.22" font-weight="bold">10</text>
<text x="384.60" y="65.80" font-size="8.5" text-anchor="middle" fill="#111" stroke="#111" stroke-width="0.22" font-weight="bold" transform="rotate(-90 384.6 65.8)">ΔT (°C)</text>
<text x="472.60" y="132.50" font-size="8.4" text-anchor="middle" fill="#111" stroke="#111" stroke-width="0.22" font-weight="bold">Time (min)</text>
<polyline points="405.30,112.30 418.25,88.55 431.20,70.60 444.15,58.02 457.10,47.00 470.05,39.36 483.00,32.86 495.95,29.19 508.90,25.51 521.85,21.27 534.80,20.71" fill="none" stroke="#f01ef0" stroke-width="1.5" stroke-linejoin="round"/>
<circle cx="405.30" cy="112.30" r="1.6" fill="#f01ef0"/>
<circle cx="418.25" cy="88.55" r="1.6" fill="#f01ef0"/>
<circle cx="431.20" cy="70.60" r="1.6" fill="#f01ef0"/>
<circle cx="444.15" cy="58.02" r="1.6" fill="#f01ef0"/>
<circle cx="457.10" cy="47.00" r="1.6" fill="#f01ef0"/>
<circle cx="470.05" cy="39.36" r="1.6" fill="#f01ef0"/>
<circle cx="483.00" cy="32.86" r="1.6" fill="#f01ef0"/>
<circle cx="495.95" cy="29.19" r="1.6" fill="#f01ef0"/>
<circle cx="508.90" cy="25.51" r="1.6" fill="#f01ef0"/>
<circle cx="521.85" cy="21.27" r="1.6" fill="#f01ef0"/>
<circle cx="534.80" cy="20.71" r="1.6" fill="#f01ef0"/>
<polyline points="405.30,112.30 418.25,95.06 431.20,82.62 444.15,73.29 457.10,65.94 470.05,59.44 483.00,55.48 495.95,51.24 508.90,48.13 521.85,47.84 534.80,44.73" fill="none" stroke="#1e2ee8" stroke-width="1.5" stroke-linejoin="round"/>
<circle cx="405.30" cy="112.30" r="1.6" fill="#1e2ee8"/>
<circle cx="418.25" cy="95.06" r="1.6" fill="#1e2ee8"/>
<circle cx="431.20" cy="82.62" r="1.6" fill="#1e2ee8"/>
<circle cx="444.15" cy="73.29" r="1.6" fill="#1e2ee8"/>
<circle cx="457.10" cy="65.94" r="1.6" fill="#1e2ee8"/>
<circle cx="470.05" cy="59.44" r="1.6" fill="#1e2ee8"/>
<circle cx="483.00" cy="55.48" r="1.6" fill="#1e2ee8"/>
<circle cx="495.95" cy="51.24" r="1.6" fill="#1e2ee8"/>
<circle cx="508.90" cy="48.13" r="1.6" fill="#1e2ee8"/>
<circle cx="521.85" cy="47.84" r="1.6" fill="#1e2ee8"/>
<circle cx="534.80" cy="44.73" r="1.6" fill="#1e2ee8"/>
<polyline points="405.30,112.30 418.25,98.87 431.20,88.55 444.15,80.07 457.10,73.57 470.05,69.89 483.00,64.81 495.95,62.83 508.90,60.28 521.85,58.02 534.80,57.74" fill="none" stroke="#ee2222" stroke-width="1.5" stroke-linejoin="round"/>
<circle cx="405.30" cy="112.30" r="1.6" fill="#ee2222"/>
<circle cx="418.25" cy="98.87" r="1.6" fill="#ee2222"/>
<circle cx="431.20" cy="88.55" r="1.6" fill="#ee2222"/>
<circle cx="444.15" cy="80.07" r="1.6" fill="#ee2222"/>
<circle cx="457.10" cy="73.57" r="1.6" fill="#ee2222"/>
<circle cx="470.05" cy="69.89" r="1.6" fill="#ee2222"/>
<circle cx="483.00" cy="64.81" r="1.6" fill="#ee2222"/>
<circle cx="495.95" cy="62.83" r="1.6" fill="#ee2222"/>
<circle cx="508.90" cy="60.28" r="1.6" fill="#ee2222"/>
<circle cx="521.85" cy="58.02" r="1.6" fill="#ee2222"/>
<circle cx="534.80" cy="57.74" r="1.6" fill="#ee2222"/>
<polyline points="405.30,112.30 418.25,101.56 431.20,93.92 444.15,87.71 457.10,83.75 470.05,79.37 483.00,76.40 495.95,73.57 508.90,71.31 521.85,70.18 534.80,69.05" fill="none" stroke="#111111" stroke-width="1.5" stroke-linejoin="round"/>
<circle cx="405.30" cy="112.30" r="1.6" fill="#111111"/>
<circle cx="418.25" cy="101.56" r="1.6" fill="#111111"/>
<circle cx="431.20" cy="93.92" r="1.6" fill="#111111"/>
<circle cx="444.15" cy="87.71" r="1.6" fill="#111111"/>
<circle cx="457.10" cy="83.75" r="1.6" fill="#111111"/>
<circle cx="470.05" cy="79.37" r="1.6" fill="#111111"/>
<circle cx="483.00" cy="76.40" r="1.6" fill="#111111"/>
<circle cx="495.95" cy="73.57" r="1.6" fill="#111111"/>
<circle cx="508.90" cy="71.31" r="1.6" fill="#111111"/>
<circle cx="521.85" cy="70.18" r="1.6" fill="#111111"/>
<circle cx="534.80" cy="69.05" r="1.6" fill="#111111"/>
<polyline points="405.30,112.30 418.25,110.60 431.20,110.32 444.15,109.76 457.10,109.61 470.05,109.47 483.00,109.47 495.95,109.33 508.90,109.19 521.85,108.91 534.80,108.34" fill="none" stroke="#2a9a3a" stroke-width="1.5" stroke-linejoin="round"/>
<circle cx="405.30" cy="112.30" r="1.6" fill="#2a9a3a"/>
<circle cx="418.25" cy="110.60" r="1.6" fill="#2a9a3a"/>
<circle cx="431.20" cy="110.32" r="1.6" fill="#2a9a3a"/>
<circle cx="444.15" cy="109.76" r="1.6" fill="#2a9a3a"/>
<circle cx="457.10" cy="109.61" r="1.6" fill="#2a9a3a"/>
<circle cx="470.05" cy="109.47" r="1.6" fill="#2a9a3a"/>
<circle cx="483.00" cy="109.47" r="1.6" fill="#2a9a3a"/>
<circle cx="495.95" cy="109.33" r="1.6" fill="#2a9a3a"/>
<circle cx="508.90" cy="109.19" r="1.6" fill="#2a9a3a"/>
<circle cx="521.85" cy="108.91" r="1.6" fill="#2a9a3a"/>
<circle cx="534.80" cy="108.34" r="1.6" fill="#2a9a3a"/>
<line x1="404.40" y1="14.00" x2="416.90" y2="14.00" stroke="#f01ef0" stroke-width="1.6"/>
<circle cx="410.7" cy="14.0" r="1.5" fill="#f01ef0"/>
<text x="418.80" y="16.20" font-size="6.7" text-anchor="start" fill="#111" stroke="#111" stroke-width="0.22" font-weight="bold">200 μg/mL</text>
<line x1="404.40" y1="22.20" x2="416.90" y2="22.20" stroke="#1e2ee8" stroke-width="1.6"/>
<circle cx="410.7" cy="22.2" r="1.5" fill="#1e2ee8"/>
<text x="418.80" y="24.40" font-size="6.7" text-anchor="start" fill="#111" stroke="#111" stroke-width="0.22" font-weight="bold">100 μg/mL</text>
<line x1="404.40" y1="30.40" x2="416.90" y2="30.40" stroke="#ee2222" stroke-width="1.6"/>
<circle cx="410.7" cy="30.4" r="1.5" fill="#ee2222"/>
<text x="418.80" y="32.60" font-size="6.7" text-anchor="start" fill="#111" stroke="#111" stroke-width="0.22" font-weight="bold">75 μg/mL</text>
<line x1="404.40" y1="38.60" x2="416.90" y2="38.60" stroke="#111111" stroke-width="1.6"/>
<circle cx="410.7" cy="38.599999999999994" r="1.5" fill="#111111"/>
<text x="418.80" y="40.80" font-size="6.7" text-anchor="start" fill="#111" stroke="#111" stroke-width="0.22" font-weight="bold">50 μg/mL</text>
<line x1="404.40" y1="46.80" x2="416.90" y2="46.80" stroke="#2a9a3a" stroke-width="1.6"/>
<circle cx="410.7" cy="46.8" r="1.5" fill="#2a9a3a"/>
<text x="418.80" y="49.00" font-size="6.7" text-anchor="start" fill="#111" stroke="#111" stroke-width="0.22" font-weight="bold">H<tspan font-size="4.5" dy="1.5">2</tspan><tspan dy="-1.5">O</tspan></text>
<rect x="40.5" y="144.5" width="141.6" height="105.6" fill="none" stroke="#454545" stroke-width="1.6"/>
<line x1="38.30" y1="244.50" x2="40.50" y2="244.50" stroke="#454545" stroke-width="1.3"/>
<text x="37.00" y="246.80" font-size="7" text-anchor="end" fill="#111" stroke="#111" stroke-width="0.22" font-weight="bold">24</text>
<line x1="38.30" y1="223.38" x2="40.50" y2="223.38" stroke="#454545" stroke-width="1.3"/>
<text x="37.00" y="225.68" font-size="7" text-anchor="end" fill="#111" stroke="#111" stroke-width="0.22" font-weight="bold">28</text>
<line x1="38.30" y1="202.26" x2="40.50" y2="202.26" stroke="#454545" stroke-width="1.3"/>
<text x="37.00" y="204.56" font-size="7" text-anchor="end" fill="#111" stroke="#111" stroke-width="0.22" font-weight="bold">32</text>
<line x1="38.30" y1="181.14" x2="40.50" y2="181.14" stroke="#454545" stroke-width="1.3"/>
<text x="37.00" y="183.44" font-size="7" text-anchor="end" fill="#111" stroke="#111" stroke-width="0.22" font-weight="bold">36</text>
<line x1="38.30" y1="160.02" x2="40.50" y2="160.02" stroke="#454545" stroke-width="1.3"/>
<text x="37.00" y="162.32" font-size="7" text-anchor="end" fill="#111" stroke="#111" stroke-width="0.22" font-weight="bold">40</text>
<line x1="39.00" y1="233.94" x2="40.50" y2="233.94" stroke="#454545" stroke-width="1"/>
<line x1="39.00" y1="212.82" x2="40.50" y2="212.82" stroke="#454545" stroke-width="1"/>
<line x1="39.00" y1="191.70" x2="40.50" y2="191.70" stroke="#454545" stroke-width="1"/>
<line x1="39.00" y1="170.58" x2="40.50" y2="170.58" stroke="#454545" stroke-width="1"/>
<line x1="39.00" y1="149.46" x2="40.50" y2="149.46" stroke="#454545" stroke-width="1"/>
<line x1="42.00" y1="250.10" x2="42.00" y2="252.30" stroke="#454545" stroke-width="1.3"/>
<text x="42.00" y="259.30" font-size="7" text-anchor="middle" fill="#111" stroke="#111" stroke-width="0.22" font-weight="bold">0</text>
<line x1="77.10" y1="250.10" x2="77.10" y2="252.30" stroke="#454545" stroke-width="1.3"/>
<text x="77.10" y="259.30" font-size="7" text-anchor="middle" fill="#111" stroke="#111" stroke-width="0.22" font-weight="bold">500</text>
<line x1="112.20" y1="250.10" x2="112.20" y2="252.30" stroke="#454545" stroke-width="1.3"/>
<text x="112.20" y="259.30" font-size="7" text-anchor="middle" fill="#111" stroke="#111" stroke-width="0.22" font-weight="bold">1000</text>
<line x1="147.30" y1="250.10" x2="147.30" y2="252.30" stroke="#454545" stroke-width="1.3"/>
<text x="147.30" y="259.30" font-size="7" text-anchor="middle" fill="#111" stroke="#111" stroke-width="0.22" font-weight="bold">1500</text>
<line x1="182.40" y1="250.10" x2="182.40" y2="252.30" stroke="#454545" stroke-width="1.3"/>
<text x="182.40" y="259.30" font-size="7" text-anchor="middle" fill="#111" stroke="#111" stroke-width="0.22" font-weight="bold">2000</text>
<line x1="59.55" y1="250.10" x2="59.55" y2="251.60" stroke="#454545" stroke-width="1"/>
<line x1="94.65" y1="250.10" x2="94.65" y2="251.60" stroke="#454545" stroke-width="1"/>
<line x1="129.75" y1="250.10" x2="129.75" y2="251.60" stroke="#454545" stroke-width="1"/>
<line x1="164.85" y1="250.10" x2="164.85" y2="251.60" stroke="#454545" stroke-width="1"/>
<text x="24.80" y="201.90" font-size="8.3" text-anchor="middle" fill="#111" stroke="#111" stroke-width="0.22" font-weight="bold" transform="rotate(-90 24.8 201.9)">Temperature (°C)</text>
<text x="115.50" y="266.50" font-size="8.1" text-anchor="middle" fill="#111" stroke="#111" stroke-width="0.22" font-weight="bold">Time (s)</text>
<polyline points="42.20,238.50 42.24,238.05 42.28,237.43 42.35,236.69 42.48,235.83 42.70,234.90 43.03,233.84 43.46,232.62 43.94,231.34 44.43,230.07 44.90,228.90 45.33,227.87 45.76,226.91 46.18,225.99 46.63,225.03 47.10,224.00 47.60,222.88 48.12,221.70 48.66,220.49 49.22,219.25 49.80,218.00 50.41,216.72 51.05,215.41 51.71,214.09 52.36,212.78 53.00,211.50 53.63,210.24 54.26,208.97 54.88,207.73 55.47,206.56 56.00,205.50 56.45,204.57 56.83,203.76 57.18,203.01 57.56,202.27 58.00,201.50 58.53,200.69 59.11,199.88 59.73,199.07 60.33,198.24 60.90,197.40 61.41,196.53 61.89,195.63 62.36,194.73 62.86,193.85 63.40,193.00 64.00,192.21 64.65,191.47 65.32,190.73 66.01,189.99 66.70,189.20 67.39,188.35 68.09,187.46 68.80,186.56 69.54,185.66 70.30,184.80 71.11,183.96 71.96,183.12 72.82,182.31 73.68,181.53 74.50,180.80 75.31,180.11 76.11,179.46 76.89,178.84 77.63,178.29 78.30,177.80 78.89,177.39 79.43,177.06 79.91,176.78 80.37,176.54 80.80,176.30 81.21,176.02 81.59,175.71 81.94,175.46 82.28,175.33 82.60,175.40 82.90,175.71 83.16,176.22 83.42,176.86 83.69,177.57 84.00,178.30 84.36,179.07 84.74,179.91 85.15,180.81 85.57,181.71 86.00,182.60 86.45,183.32 86.93,184.47 87.41,185.28 87.87,186.31 88.30,187.09 88.67,187.29 88.98,187.72 89.29,188.72 89.62,188.77 90.00,189.31 90.43,190.55 90.89,190.96 91.39,192.04 91.92,192.64 92.50,193.60 93.13,194.09 93.80,195.27 94.52,196.29 95.25,196.93 96.00,197.97 96.75,198.81 97.50,199.27 98.28,200.67 99.10,201.51 100.00,202.36 100.99,203.34 102.05,205.20 103.17,206.24 104.29,207.72 105.40,209.07 106.47,210.10 107.51,211.34 108.57,212.05 109.69,213.41 110.90,214.26 112.20,215.74 113.57,216.86 115.00,217.48 116.51,218.65 118.10,219.80 119.80,221.40 121.61,222.09 123.48,223.24 125.36,223.98 127.20,225.01 129.00,225.70 130.80,226.37 132.60,227.16 134.40,227.76 136.20,228.58 138.02,229.01 139.84,229.74 141.66,230.22 143.48,230.83 145.30,231.12 147.10,231.27 148.90,232.26 150.70,232.82 152.50,233.25 154.30,233.45 156.11,233.95 157.93,233.98 159.76,234.77 161.58,234.93 163.40,235.05 165.22,235.21 167.03,236.07 168.85,236.45 170.67,236.08 172.50,236.81 174.50,236.75 176.65,236.76 178.74,237.02 180.53,237.49 181.80,237.66" fill="none" stroke="#111111" stroke-width="1.7" stroke-linejoin="round"/>
<polyline points="42.00,249.50 41.98,247.98 41.95,245.81 41.92,243.27 41.90,240.67 41.92,238.31 42.00,236.50 42.14,235.28 42.33,234.43 42.55,233.81 42.80,233.32 43.05,234.17 43.30,233.32 43.56,232.34 43.83,231.32 44.11,230.29 44.39,229.28 44.66,228.32 44.90,227.43 45.11,226.66 45.29,226.00 45.45,225.38 45.61,224.75 45.79,224.05 46.00,226.00 46.24,224.98 46.50,223.83 46.77,222.60 47.05,221.35 47.33,220.13 47.60,219.01 47.87,217.97 48.15,216.99 48.43,216.04 48.70,215.11 48.96,214.17 49.20,216.01 49.41,215.03 49.58,214.05 49.74,213.06 49.91,212.07 50.09,211.08 50.30,210.09 50.56,209.08 50.85,208.05 51.16,207.01 51.47,206.00 51.76,205.02 52.00,206.90 52.17,206.11 52.26,205.45 52.33,204.82 52.43,204.14 52.60,203.32 52.90,202.26 53.37,200.87 53.99,199.19 54.69,197.37 55.39,198.34 56.01,196.64 56.50,195.20 56.82,194.05 57.03,193.09 57.16,192.26 57.27,191.48 57.41,190.71 57.60,189.87 57.86,188.98 58.16,190.90 58.48,190.01 58.80,189.11 59.11,188.21 59.40,187.29 59.65,186.37 59.88,185.44 60.09,184.51 60.32,183.56 60.58,182.59 60.90,181.59 61.28,183.39 61.70,182.38 62.16,181.36 62.64,180.29 63.12,179.17 63.60,177.97 64.09,179.42 64.60,177.91 65.12,176.34 65.63,174.82 66.10,173.42 66.50,172.27 66.81,171.44 67.03,173.68 67.21,173.26 67.40,172.84 67.64,172.29 68.00,171.47 68.48,170.32 69.05,168.95 69.68,167.45 70.34,168.71 70.99,167.23 71.60,165.91 72.16,164.78 72.70,163.78 73.23,165.64 73.78,164.70 74.36,163.68 75.00,162.53 75.72,161.20 76.52,162.52 77.36,160.98 78.19,159.43 78.98,157.97 79.70,159.45 80.34,158.27 80.94,157.17 81.51,156.15 82.03,157.99 82.53,157.10 83.00,156.27 83.43,155.39 83.81,154.46 84.17,153.59 84.51,153.84 84.85,153.76 85.20,154.10 85.56,154.97 85.92,156.29 86.28,157.35 86.64,159.79 87.01,160.86 87.40,163.26 87.81,164.27 88.24,166.42 88.68,168.03 89.13,168.92 89.57,170.93 90.00,171.47 90.42,172.51 90.83,174.41 91.24,174.97 91.66,176.37 92.07,177.78 92.50,179.13 92.94,179.66 93.38,180.55 93.83,182.54 94.29,182.82 94.74,184.49 95.20,185.28 95.67,185.45 96.16,186.28 96.64,187.04 97.12,187.85 97.58,188.44 98.00,189.07 98.34,189.76 98.60,190.67 98.84,190.67 99.11,191.18 99.48,192.28 100.00,192.69 100.70,194.07 101.54,196.46 102.48,197.64 103.47,199.45 104.45,200.51 105.40,202.50 106.29,204.00 107.16,204.51 108.04,206.33 108.94,207.43 109.88,207.83 110.90,209.65 111.98,210.68 113.10,212.20 114.28,213.08 115.50,214.76 116.77,215.99 118.10,216.23 119.51,217.27 121.00,218.94 122.54,220.15 124.10,220.12 125.67,221.16 127.20,222.11 128.70,222.55 130.20,223.34 131.70,223.98 133.20,224.73 134.70,225.67 136.20,225.96 137.71,226.69 139.23,227.77 140.75,227.48 142.27,228.70 143.79,229.45 145.30,229.47 146.80,229.87 148.30,231.05 149.80,230.84 151.30,231.21 152.80,231.93 154.30,232.64 155.81,232.29 157.33,232.90 158.84,233.24 160.36,234.15 161.88,233.96 163.40,234.73 164.91,234.14 166.43,234.56 167.94,235.13 169.45,235.60 170.97,235.26 172.50,235.17 174.15,235.25 175.93,235.95 177.72,235.75 179.38,236.69 180.79,236.89 181.80,236.22" fill="none" stroke="#ee1c1c" stroke-width="2.0" stroke-linejoin="round"/>
<line x1="128.80" y1="152.60" x2="140.20" y2="152.60" stroke="#ee2020" stroke-width="1.6"/>
<text x="141.90" y="154.60" font-size="6.4" text-anchor="start" fill="#111" stroke="#111" stroke-width="0.22" font-weight="bold">PDA-150PY</text>
<line x1="128.80" y1="160.20" x2="140.20" y2="160.20" stroke="#111" stroke-width="1.6"/>
<text x="141.90" y="162.40" font-size="6.4" text-anchor="start" fill="#111" stroke="#111" stroke-width="0.22" font-weight="bold">PDA</text>
<rect x="222.8" y="144.5" width="142.09999999999997" height="105.19999999999999" fill="none" stroke="#454545" stroke-width="1.6"/>
<line x1="220.60" y1="244.00" x2="222.80" y2="244.00" stroke="#454545" stroke-width="1.3"/>
<text x="219.40" y="246.00" font-size="7.1" text-anchor="end" fill="#111" stroke="#111" stroke-width="0.22" font-weight="bold">0</text>
<line x1="220.60" y1="221.86" x2="222.80" y2="221.86" stroke="#454545" stroke-width="1.3"/>
<text x="219.40" y="223.86" font-size="7.1" text-anchor="end" fill="#111" stroke="#111" stroke-width="0.22" font-weight="bold">200</text>
<line x1="220.60" y1="199.72" x2="222.80" y2="199.72" stroke="#454545" stroke-width="1.3"/>
<text x="219.40" y="201.72" font-size="7.1" text-anchor="end" fill="#111" stroke="#111" stroke-width="0.22" font-weight="bold">400</text>
<line x1="220.60" y1="177.58" x2="222.80" y2="177.58" stroke="#454545" stroke-width="1.3"/>
<text x="219.40" y="179.58" font-size="7.1" text-anchor="end" fill="#111" stroke="#111" stroke-width="0.22" font-weight="bold">600</text>
<line x1="220.60" y1="155.44" x2="222.80" y2="155.44" stroke="#454545" stroke-width="1.3"/>
<text x="219.40" y="157.44" font-size="7.1" text-anchor="end" fill="#111" stroke="#111" stroke-width="0.22" font-weight="bold">800</text>
<line x1="221.30" y1="232.93" x2="222.80" y2="232.93" stroke="#454545" stroke-width="1"/>
<line x1="221.30" y1="210.79" x2="222.80" y2="210.79" stroke="#454545" stroke-width="1"/>
<line x1="221.30" y1="188.65" x2="222.80" y2="188.65" stroke="#454545" stroke-width="1"/>
<line x1="221.30" y1="166.51" x2="222.80" y2="166.51" stroke="#454545" stroke-width="1"/>
<line x1="228.60" y1="249.70" x2="228.60" y2="251.90" stroke="#454545" stroke-width="1.3"/>
<text x="228.60" y="259.20" font-size="7.5" text-anchor="middle" fill="#111" stroke="#111" stroke-width="0.22" font-weight="bold">0.0</text>
<line x1="249.09" y1="249.70" x2="249.09" y2="251.90" stroke="#454545" stroke-width="1.3"/>
<text x="249.09" y="259.20" font-size="7.5" text-anchor="middle" fill="#111" stroke="#111" stroke-width="0.22" font-weight="bold">0.3</text>
<line x1="269.58" y1="249.70" x2="269.58" y2="251.90" stroke="#454545" stroke-width="1.3"/>
<text x="269.58" y="259.20" font-size="7.5" text-anchor="middle" fill="#111" stroke="#111" stroke-width="0.22" font-weight="bold">0.6</text>
<line x1="290.07" y1="249.70" x2="290.07" y2="251.90" stroke="#454545" stroke-width="1.3"/>
<text x="290.07" y="259.20" font-size="7.5" text-anchor="middle" fill="#111" stroke="#111" stroke-width="0.22" font-weight="bold">0.9</text>
<line x1="310.56" y1="249.70" x2="310.56" y2="251.90" stroke="#454545" stroke-width="1.3"/>
<text x="310.56" y="259.20" font-size="7.5" text-anchor="middle" fill="#111" stroke="#111" stroke-width="0.22" font-weight="bold">1.2</text>
<line x1="331.05" y1="249.70" x2="331.05" y2="251.90" stroke="#454545" stroke-width="1.3"/>
<text x="331.05" y="259.20" font-size="7.5" text-anchor="middle" fill="#111" stroke="#111" stroke-width="0.22" font-weight="bold">1.5</text>
<line x1="351.54" y1="249.70" x2="351.54" y2="251.90" stroke="#454545" stroke-width="1.3"/>
<text x="351.54" y="259.20" font-size="7.5" text-anchor="middle" fill="#111" stroke="#111" stroke-width="0.22" font-weight="bold">1.8</text>
<line x1="238.84" y1="249.70" x2="238.84" y2="251.20" stroke="#454545" stroke-width="1"/>
<line x1="259.33" y1="249.70" x2="259.33" y2="251.20" stroke="#454545" stroke-width="1"/>
<line x1="279.82" y1="249.70" x2="279.82" y2="251.20" stroke="#454545" stroke-width="1"/>
<line x1="300.31" y1="249.70" x2="300.31" y2="251.20" stroke="#454545" stroke-width="1"/>
<line x1="320.81" y1="249.70" x2="320.81" y2="251.20" stroke="#454545" stroke-width="1"/>
<line x1="341.29" y1="249.70" x2="341.29" y2="251.20" stroke="#454545" stroke-width="1"/>
<line x1="361.78" y1="249.70" x2="361.78" y2="251.20" stroke="#454545" stroke-width="1"/>
<text x="203.50" y="199.20" font-size="8.1" text-anchor="middle" fill="#111" stroke="#111" stroke-width="0.22" font-weight="bold" transform="rotate(-90 203.5 199.2)">Time (s)</text>
<text x="297.50" y="268.00" font-size="8.6" text-anchor="middle" fill="#111" stroke="#111" stroke-width="0.22" font-weight="bold">-ln(θ)</text>
<text x="231.20" y="155.00" font-size="6.4" text-anchor="start" fill="#111" stroke="#111" stroke-width="0.22" font-weight="bold">PDA</text>
<text x="314.00" y="222.00" font-size="7.4" text-anchor="start" fill="#111" stroke="#111" stroke-width="0.22" font-weight="bold">τ<tspan font-size="4.5" dy="1.5">s</tspan><tspan dy="-1.5">=453.92</tspan></text>
<text x="314.00" y="232.50" font-size="7.3" text-anchor="start" fill="#111" stroke="#111" stroke-width="0.22" font-weight="bold">η=40.49%</text>
<rect x="227.50" y="244.30" width="2.20" height="2.20" fill="#111"/>
<rect x="228.13" y="243.35" width="2.20" height="2.20" fill="#111"/>
<rect x="228.76" y="243.29" width="2.20" height="2.20" fill="#111"/>
<rect x="229.21" y="243.03" width="2.20" height="2.20" fill="#111"/>
<rect x="229.83" y="242.59" width="2.20" height="2.20" fill="#111"/>
<rect x="230.34" y="242.03" width="2.20" height="2.20" fill="#111"/>
<rect x="230.86" y="241.65" width="2.20" height="2.20" fill="#111"/>
<rect x="231.52" y="241.50" width="2.20" height="2.20" fill="#111"/>
<rect x="231.93" y="240.16" width="2.20" height="2.20" fill="#111"/>
<rect x="232.58" y="239.62" width="2.20" height="2.20" fill="#111"/>
<rect x="233.11" y="239.28" width="2.20" height="2.20" fill="#111"/>
<rect x="233.78" y="239.76" width="2.20" height="2.20" fill="#111"/>
<rect x="234.39" y="238.49" width="2.20" height="2.20" fill="#111"/>
<rect x="234.98" y="238.48" width="2.20" height="2.20" fill="#111"/>
<rect x="235.47" y="238.35" width="2.20" height="2.20" fill="#111"/>
<rect x="235.94" y="238.37" width="2.20" height="2.20" fill="#111"/>
<rect x="236.51" y="237.66" width="2.20" height="2.20" fill="#111"/>
<rect x="237.14" y="237.52" width="2.20" height="2.20" fill="#111"/>
<rect x="237.80" y="236.17" width="2.20" height="2.20" fill="#111"/>
<rect x="238.46" y="235.41" width="2.20" height="2.20" fill="#111"/>
<rect x="239.12" y="235.36" width="2.20" height="2.20" fill="#111"/>
<rect x="239.53" y="234.83" width="2.20" height="2.20" fill="#111"/>
<rect x="239.99" y="235.08" width="2.20" height="2.20" fill="#111"/>
<rect x="240.58" y="234.35" width="2.20" height="2.20" fill="#111"/>
<rect x="241.10" y="233.42" width="2.20" height="2.20" fill="#111"/>
<rect x="241.68" y="233.79" width="2.20" height="2.20" fill="#111"/>
<rect x="242.16" y="232.74" width="2.20" height="2.20" fill="#111"/>
<rect x="242.70" y="232.45" width="2.20" height="2.20" fill="#111"/>
<rect x="243.20" y="232.85" width="2.20" height="2.20" fill="#111"/>
<rect x="243.76" y="231.62" width="2.20" height="2.20" fill="#111"/>
<rect x="244.22" y="231.32" width="2.20" height="2.20" fill="#111"/>
<rect x="244.88" y="230.81" width="2.20" height="2.20" fill="#111"/>
<rect x="245.51" y="231.41" width="2.20" height="2.20" fill="#111"/>
<rect x="246.09" y="229.84" width="2.20" height="2.20" fill="#111"/>
<rect x="246.52" y="230.32" width="2.20" height="2.20" fill="#111"/>
<rect x="247.00" y="229.62" width="2.20" height="2.20" fill="#111"/>
<rect x="247.52" y="229.31" width="2.20" height="2.20" fill="#111"/>
<rect x="248.15" y="229.92" width="2.20" height="2.20" fill="#111"/>
<rect x="248.57" y="229.44" width="2.20" height="2.20" fill="#111"/>
<rect x="249.02" y="229.19" width="2.20" height="2.20" fill="#111"/>
<rect x="249.69" y="227.65" width="2.20" height="2.20" fill="#111"/>
<rect x="250.12" y="227.80" width="2.20" height="2.20" fill="#111"/>
<rect x="250.62" y="227.68" width="2.20" height="2.20" fill="#111"/>
<rect x="251.13" y="226.87" width="2.20" height="2.20" fill="#111"/>
<rect x="251.70" y="226.83" width="2.20" height="2.20" fill="#111"/>
<rect x="252.16" y="226.53" width="2.20" height="2.20" fill="#111"/>
<rect x="252.60" y="225.90" width="2.20" height="2.20" fill="#111"/>
<rect x="253.21" y="225.69" width="2.20" height="2.20" fill="#111"/>
<rect x="253.64" y="225.64" width="2.20" height="2.20" fill="#111"/>
<rect x="254.15" y="224.70" width="2.20" height="2.20" fill="#111"/>
<rect x="254.77" y="224.54" width="2.20" height="2.20" fill="#111"/>
<rect x="255.40" y="223.75" width="2.20" height="2.20" fill="#111"/>
<rect x="255.93" y="223.70" width="2.20" height="2.20" fill="#111"/>
<rect x="256.48" y="222.86" width="2.20" height="2.20" fill="#111"/>
<rect x="257.00" y="222.48" width="2.20" height="2.20" fill="#111"/>
<rect x="257.54" y="222.69" width="2.20" height="2.20" fill="#111"/>
<rect x="258.09" y="221.68" width="2.20" height="2.20" fill="#111"/>
<rect x="258.52" y="221.72" width="2.20" height="2.20" fill="#111"/>
<rect x="259.05" y="220.73" width="2.20" height="2.20" fill="#111"/>
<rect x="259.71" y="220.91" width="2.20" height="2.20" fill="#111"/>
<rect x="260.37" y="219.88" width="2.20" height="2.20" fill="#111"/>
<rect x="260.85" y="219.96" width="2.20" height="2.20" fill="#111"/>
<rect x="261.29" y="219.17" width="2.20" height="2.20" fill="#111"/>
<rect x="261.89" y="218.63" width="2.20" height="2.20" fill="#111"/>
<rect x="262.51" y="218.46" width="2.20" height="2.20" fill="#111"/>
<rect x="263.12" y="218.15" width="2.20" height="2.20" fill="#111"/>
<rect x="263.56" y="217.80" width="2.20" height="2.20" fill="#111"/>
<rect x="263.97" y="218.09" width="2.20" height="2.20" fill="#111"/>
<rect x="264.59" y="217.76" width="2.20" height="2.20" fill="#111"/>
<rect x="265.03" y="217.37" width="2.20" height="2.20" fill="#111"/>
<rect x="265.68" y="216.78" width="2.20" height="2.20" fill="#111"/>
<rect x="266.09" y="215.60" width="2.20" height="2.20" fill="#111"/>
<rect x="266.54" y="215.27" width="2.20" height="2.20" fill="#111"/>
<rect x="267.13" y="214.84" width="2.20" height="2.20" fill="#111"/>
<rect x="267.80" y="214.69" width="2.20" height="2.20" fill="#111"/>
<rect x="268.43" y="214.95" width="2.20" height="2.20" fill="#111"/>
<rect x="269.05" y="213.86" width="2.20" height="2.20" fill="#111"/>
<rect x="269.65" y="213.95" width="2.20" height="2.20" fill="#111"/>
<rect x="270.27" y="212.40" width="2.20" height="2.20" fill="#111"/>
<rect x="270.69" y="212.90" width="2.20" height="2.20" fill="#111"/>
<rect x="271.26" y="211.82" width="2.20" height="2.20" fill="#111"/>
<rect x="271.73" y="212.33" width="2.20" height="2.20" fill="#111"/>
<rect x="272.21" y="211.40" width="2.20" height="2.20" fill="#111"/>
<rect x="272.83" y="211.24" width="2.20" height="2.20" fill="#111"/>
<rect x="273.34" y="210.86" width="2.20" height="2.20" fill="#111"/>
<rect x="273.84" y="210.46" width="2.20" height="2.20" fill="#111"/>
<rect x="274.28" y="210.03" width="2.20" height="2.20" fill="#111"/>
<rect x="274.95" y="209.65" width="2.20" height="2.20" fill="#111"/>
<rect x="275.57" y="209.53" width="2.20" height="2.20" fill="#111"/>
<rect x="276.16" y="208.30" width="2.20" height="2.20" fill="#111"/>
<rect x="276.76" y="208.18" width="2.20" height="2.20" fill="#111"/>
<rect x="277.30" y="207.62" width="2.20" height="2.20" fill="#111"/>
<rect x="277.95" y="207.79" width="2.20" height="2.20" fill="#111"/>
<rect x="278.39" y="206.67" width="2.20" height="2.20" fill="#111"/>
<rect x="279.05" y="206.49" width="2.20" height="2.20" fill="#111"/>
<rect x="279.58" y="205.84" width="2.20" height="2.20" fill="#111"/>
<rect x="280.04" y="206.10" width="2.20" height="2.20" fill="#111"/>
<rect x="280.51" y="205.33" width="2.20" height="2.20" fill="#111"/>
<rect x="281.00" y="205.44" width="2.20" height="2.20" fill="#111"/>
<rect x="281.60" y="204.04" width="2.20" height="2.20" fill="#111"/>
<rect x="282.09" y="204.01" width="2.20" height="2.20" fill="#111"/>
<rect x="282.61" y="203.42" width="2.20" height="2.20" fill="#111"/>
<rect x="283.18" y="203.78" width="2.20" height="2.20" fill="#111"/>
<rect x="283.65" y="203.76" width="2.20" height="2.20" fill="#111"/>
<rect x="284.19" y="202.89" width="2.20" height="2.20" fill="#111"/>
<rect x="284.65" y="202.58" width="2.20" height="2.20" fill="#111"/>
<rect x="285.15" y="201.67" width="2.20" height="2.20" fill="#111"/>
<rect x="285.60" y="198.83" width="2.20" height="2.20" fill="#111"/>
<rect x="286.14" y="198.96" width="2.20" height="2.20" fill="#111"/>
<rect x="286.68" y="198.25" width="2.20" height="2.20" fill="#111"/>
<rect x="287.31" y="198.15" width="2.20" height="2.20" fill="#111"/>
<rect x="287.85" y="197.53" width="2.20" height="2.20" fill="#111"/>
<rect x="288.50" y="197.49" width="2.20" height="2.20" fill="#111"/>
<rect x="289.11" y="196.29" width="2.20" height="2.20" fill="#111"/>
<rect x="289.64" y="196.87" width="2.20" height="2.20" fill="#111"/>
<rect x="290.12" y="195.87" width="2.20" height="2.20" fill="#111"/>
<rect x="290.71" y="195.11" width="2.20" height="2.20" fill="#111"/>
<rect x="291.35" y="197.81" width="2.20" height="2.20" fill="#111"/>
<rect x="291.82" y="197.44" width="2.20" height="2.20" fill="#111"/>
<rect x="292.28" y="196.51" width="2.20" height="2.20" fill="#111"/>
<rect x="292.92" y="195.78" width="2.20" height="2.20" fill="#111"/>
<rect x="293.40" y="195.47" width="2.20" height="2.20" fill="#111"/>
<rect x="293.90" y="195.69" width="2.20" height="2.20" fill="#111"/>
<rect x="294.51" y="195.69" width="2.20" height="2.20" fill="#111"/>
<rect x="294.94" y="194.38" width="2.20" height="2.20" fill="#111"/>
<rect x="295.43" y="194.65" width="2.20" height="2.20" fill="#111"/>
<rect x="296.00" y="191.93" width="2.20" height="2.20" fill="#111"/>
<rect x="296.41" y="192.08" width="2.20" height="2.20" fill="#111"/>
<rect x="296.94" y="191.49" width="2.20" height="2.20" fill="#111"/>
<rect x="297.41" y="191.02" width="2.20" height="2.20" fill="#111"/>
<rect x="298.08" y="190.78" width="2.20" height="2.20" fill="#111"/>
<rect x="298.64" y="190.73" width="2.20" height="2.20" fill="#111"/>
<rect x="299.12" y="189.65" width="2.20" height="2.20" fill="#111"/>
<rect x="299.56" y="189.03" width="2.20" height="2.20" fill="#111"/>
<rect x="300.22" y="189.59" width="2.20" height="2.20" fill="#111"/>
<rect x="300.89" y="188.73" width="2.20" height="2.20" fill="#111"/>
<rect x="301.51" y="187.77" width="2.20" height="2.20" fill="#111"/>
<rect x="302.00" y="187.52" width="2.20" height="2.20" fill="#111"/>
<rect x="302.59" y="186.91" width="2.20" height="2.20" fill="#111"/>
<rect x="303.07" y="186.62" width="2.20" height="2.20" fill="#111"/>
<rect x="303.74" y="186.24" width="2.20" height="2.20" fill="#111"/>
<rect x="304.30" y="185.35" width="2.20" height="2.20" fill="#111"/>
<rect x="304.84" y="184.64" width="2.20" height="2.20" fill="#111"/>
<rect x="305.45" y="183.76" width="2.20" height="2.20" fill="#111"/>
<rect x="306.01" y="184.00" width="2.20" height="2.20" fill="#111"/>
<rect x="306.60" y="182.97" width="2.20" height="2.20" fill="#111"/>
<rect x="307.06" y="182.29" width="2.20" height="2.20" fill="#111"/>
<rect x="307.65" y="182.88" width="2.20" height="2.20" fill="#111"/>
<rect x="308.31" y="182.36" width="2.20" height="2.20" fill="#111"/>
<rect x="308.81" y="181.23" width="2.20" height="2.20" fill="#111"/>
<rect x="309.38" y="181.02" width="2.20" height="2.20" fill="#111"/>
<rect x="309.97" y="179.84" width="2.20" height="2.20" fill="#111"/>
<rect x="310.47" y="179.85" width="2.20" height="2.20" fill="#111"/>
<rect x="310.89" y="178.81" width="2.20" height="2.20" fill="#111"/>
<rect x="311.51" y="178.59" width="2.20" height="2.20" fill="#111"/>
<rect x="312.12" y="178.38" width="2.20" height="2.20" fill="#111"/>
<rect x="312.60" y="178.00" width="2.20" height="2.20" fill="#111"/>
<rect x="313.25" y="177.97" width="2.20" height="2.20" fill="#111"/>
<rect x="313.80" y="177.30" width="2.20" height="2.20" fill="#111"/>
<rect x="314.42" y="176.70" width="2.20" height="2.20" fill="#111"/>
<rect x="314.92" y="176.27" width="2.20" height="2.20" fill="#111"/>
<rect x="315.48" y="175.37" width="2.20" height="2.20" fill="#111"/>
<rect x="315.98" y="174.89" width="2.20" height="2.20" fill="#111"/>
<rect x="316.43" y="175.33" width="2.20" height="2.20" fill="#111"/>
<rect x="316.86" y="175.22" width="2.20" height="2.20" fill="#111"/>
<rect x="317.48" y="173.95" width="2.20" height="2.20" fill="#111"/>
<rect x="317.94" y="174.32" width="2.20" height="2.20" fill="#111"/>
<rect x="318.47" y="173.20" width="2.20" height="2.20" fill="#111"/>
<rect x="319.10" y="172.73" width="2.20" height="2.20" fill="#111"/>
<rect x="319.67" y="173.11" width="2.20" height="2.20" fill="#111"/>
<rect x="320.19" y="172.67" width="2.20" height="2.20" fill="#111"/>
<rect x="320.75" y="173.53" width="2.20" height="2.20" fill="#111"/>
<rect x="321.21" y="173.61" width="2.20" height="2.20" fill="#111"/>
<rect x="321.83" y="173.45" width="2.20" height="2.20" fill="#111"/>
<rect x="322.46" y="171.84" width="2.20" height="2.20" fill="#111"/>
<rect x="323.13" y="172.02" width="2.20" height="2.20" fill="#111"/>
<rect x="323.69" y="171.34" width="2.20" height="2.20" fill="#111"/>
<rect x="324.28" y="170.39" width="2.20" height="2.20" fill="#111"/>
<rect x="324.87" y="170.85" width="2.20" height="2.20" fill="#111"/>
<rect x="325.52" y="170.13" width="2.20" height="2.20" fill="#111"/>
<rect x="326.09" y="169.39" width="2.20" height="2.20" fill="#111"/>
<rect x="326.50" y="169.03" width="2.20" height="2.20" fill="#111"/>
<rect x="327.09" y="168.96" width="2.20" height="2.20" fill="#111"/>
<rect x="327.65" y="168.60" width="2.20" height="2.20" fill="#111"/>
<rect x="328.11" y="168.16" width="2.20" height="2.20" fill="#111"/>
<rect x="328.53" y="167.89" width="2.20" height="2.20" fill="#111"/>
<rect x="329.11" y="167.54" width="2.20" height="2.20" fill="#111"/>
<rect x="329.68" y="166.44" width="2.20" height="2.20" fill="#111"/>
<rect x="330.33" y="167.05" width="2.20" height="2.20" fill="#111"/>
<rect x="330.96" y="165.94" width="2.20" height="2.20" fill="#111"/>
<rect x="331.38" y="165.98" width="2.20" height="2.20" fill="#111"/>
<rect x="331.86" y="166.01" width="2.20" height="2.20" fill="#111"/>
<rect x="332.41" y="164.47" width="2.20" height="2.20" fill="#111"/>
<rect x="332.91" y="164.18" width="2.20" height="2.20" fill="#111"/>
<rect x="333.51" y="164.71" width="2.20" height="2.20" fill="#111"/>
<rect x="336.85" y="162.64" width="2.20" height="2.20" fill="#111"/>
<rect x="337.07" y="161.76" width="2.20" height="2.20" fill="#111"/>
<rect x="336.93" y="160.87" width="2.20" height="2.20" fill="#111"/>
<rect x="336.94" y="159.99" width="2.20" height="2.20" fill="#111"/>
<rect x="336.67" y="159.10" width="2.20" height="2.20" fill="#111"/>
<rect x="340.75" y="160.98" width="2.20" height="2.20" fill="#111"/>
<rect x="340.83" y="160.10" width="2.20" height="2.20" fill="#111"/>
<rect x="340.78" y="159.21" width="2.20" height="2.20" fill="#111"/>
<rect x="340.49" y="158.33" width="2.20" height="2.20" fill="#111"/>
<rect x="340.71" y="157.44" width="2.20" height="2.20" fill="#111"/>
<rect x="340.53" y="156.55" width="2.20" height="2.20" fill="#111"/>
<rect x="340.27" y="155.67" width="2.20" height="2.20" fill="#111"/>
<rect x="340.22" y="154.78" width="2.20" height="2.20" fill="#111"/>
<rect x="340.25" y="153.90" width="2.20" height="2.20" fill="#111"/>
<rect x="343.75" y="160.43" width="2.20" height="2.20" fill="#111"/>
<rect x="343.72" y="159.54" width="2.20" height="2.20" fill="#111"/>
<rect x="343.95" y="158.66" width="2.20" height="2.20" fill="#111"/>
<rect x="344.09" y="157.77" width="2.20" height="2.20" fill="#111"/>
<rect x="343.98" y="156.89" width="2.20" height="2.20" fill="#111"/>
<rect x="343.90" y="156.00" width="2.20" height="2.20" fill="#111"/>
<rect x="344.05" y="155.11" width="2.20" height="2.20" fill="#111"/>
<rect x="343.82" y="154.23" width="2.20" height="2.20" fill="#111"/>
<rect x="343.93" y="153.34" width="2.20" height="2.20" fill="#111"/>
<rect x="347.20" y="159.32" width="2.20" height="2.20" fill="#111"/>
<rect x="346.96" y="158.44" width="2.20" height="2.20" fill="#111"/>
<rect x="346.81" y="157.55" width="2.20" height="2.20" fill="#111"/>
<rect x="347.30" y="156.66" width="2.20" height="2.20" fill="#111"/>
<rect x="347.18" y="155.78" width="2.20" height="2.20" fill="#111"/>
<rect x="346.93" y="154.89" width="2.20" height="2.20" fill="#111"/>
<rect x="346.94" y="154.01" width="2.20" height="2.20" fill="#111"/>
<rect x="347.05" y="153.12" width="2.20" height="2.20" fill="#111"/>
<line x1="228.60" y1="244.00" x2="347.10" y2="157.57" stroke="#e8202a" stroke-width="1.0"/>
<rect x="400.5" y="144.5" width="142.10000000000002" height="105.1" fill="none" stroke="#454545" stroke-width="1.6"/>
<line x1="398.30" y1="244.00" x2="400.50" y2="244.00" stroke="#454545" stroke-width="1.3"/>
<text x="397.10" y="246.00" font-size="7.1" text-anchor="end" fill="#111" stroke="#111" stroke-width="0.22" font-weight="bold">0</text>
<line x1="398.30" y1="221.86" x2="400.50" y2="221.86" stroke="#454545" stroke-width="1.3"/>
<text x="397.10" y="223.86" font-size="7.1" text-anchor="end" fill="#111" stroke="#111" stroke-width="0.22" font-weight="bold">200</text>
<line x1="398.30" y1="199.72" x2="400.50" y2="199.72" stroke="#454545" stroke-width="1.3"/>
<text x="397.10" y="201.72" font-size="7.1" text-anchor="end" fill="#111" stroke="#111" stroke-width="0.22" font-weight="bold">400</text>
<line x1="398.30" y1="177.58" x2="400.50" y2="177.58" stroke="#454545" stroke-width="1.3"/>
<text x="397.10" y="179.58" font-size="7.1" text-anchor="end" fill="#111" stroke="#111" stroke-width="0.22" font-weight="bold">600</text>
<line x1="398.30" y1="155.44" x2="400.50" y2="155.44" stroke="#454545" stroke-width="1.3"/>
<text x="397.10" y="157.44" font-size="7.1" text-anchor="end" fill="#111" stroke="#111" stroke-width="0.22" font-weight="bold">800</text>
<line x1="399.00" y1="232.93" x2="400.50" y2="232.93" stroke="#454545" stroke-width="1"/>
<line x1="399.00" y1="210.79" x2="400.50" y2="210.79" stroke="#454545" stroke-width="1"/>
<line x1="399.00" y1="188.65" x2="400.50" y2="188.65" stroke="#454545" stroke-width="1"/>
<line x1="399.00" y1="166.51" x2="400.50" y2="166.51" stroke="#454545" stroke-width="1"/>
<line x1="406.20" y1="249.60" x2="406.20" y2="251.80" stroke="#454545" stroke-width="1.3"/>
<text x="406.20" y="259.20" font-size="7.5" text-anchor="middle" fill="#111" stroke="#111" stroke-width="0.22" font-weight="bold">0.0</text>
<line x1="433.40" y1="249.60" x2="433.40" y2="251.80" stroke="#454545" stroke-width="1.3"/>
<text x="433.40" y="259.20" font-size="7.5" text-anchor="middle" fill="#111" stroke="#111" stroke-width="0.22" font-weight="bold">0.5</text>
<line x1="460.60" y1="249.60" x2="460.60" y2="251.80" stroke="#454545" stroke-width="1.3"/>
<text x="460.60" y="259.20" font-size="7.5" text-anchor="middle" fill="#111" stroke="#111" stroke-width="0.22" font-weight="bold">1.0</text>
<line x1="487.80" y1="249.60" x2="487.80" y2="251.80" stroke="#454545" stroke-width="1.3"/>
<text x="487.80" y="259.20" font-size="7.5" text-anchor="middle" fill="#111" stroke="#111" stroke-width="0.22" font-weight="bold">1.5</text>
<line x1="515.00" y1="249.60" x2="515.00" y2="251.80" stroke="#454545" stroke-width="1.3"/>
<text x="515.00" y="259.20" font-size="7.5" text-anchor="middle" fill="#111" stroke="#111" stroke-width="0.22" font-weight="bold">2.0</text>
<line x1="542.20" y1="249.60" x2="542.20" y2="251.80" stroke="#454545" stroke-width="1.3"/>
<text x="542.20" y="259.20" font-size="7.5" text-anchor="middle" fill="#111" stroke="#111" stroke-width="0.22" font-weight="bold">2.5</text>
<line x1="419.80" y1="249.60" x2="419.80" y2="251.10" stroke="#454545" stroke-width="1"/>
<line x1="447.00" y1="249.60" x2="447.00" y2="251.10" stroke="#454545" stroke-width="1"/>
<line x1="474.20" y1="249.60" x2="474.20" y2="251.10" stroke="#454545" stroke-width="1"/>
<line x1="501.40" y1="249.60" x2="501.40" y2="251.10" stroke="#454545" stroke-width="1"/>
<line x1="528.60" y1="249.60" x2="528.60" y2="251.10" stroke="#454545" stroke-width="1"/>
<text x="383.00" y="202.70" font-size="8.1" text-anchor="middle" fill="#111" stroke="#111" stroke-width="0.22" font-weight="bold" transform="rotate(-90 383 202.7)">Time (s)</text>
<text x="472.60" y="268.00" font-size="8.6" text-anchor="middle" fill="#111" stroke="#111" stroke-width="0.22" font-weight="bold">-ln(θ)</text>
<text x="407.00" y="159.00" font-size="6.4" text-anchor="start" fill="#111" stroke="#111" stroke-width="0.22" font-weight="bold">PDA-150PY</text>
<text x="499.00" y="222.50" font-size="7.4" text-anchor="start" fill="#111" stroke="#111" stroke-width="0.22" font-weight="bold">τ<tspan font-size="4.5" dy="1.5">s</tspan><tspan dy="-1.5">=397.95</tspan></text>
<text x="499.00" y="233.50" font-size="7.3" text-anchor="start" fill="#111" stroke="#111" stroke-width="0.22" font-weight="bold">η=45.47%</text>
<rect x="405.10" y="243.68" width="2.20" height="2.20" fill="#111"/>
<rect x="405.48" y="244.03" width="2.20" height="2.20" fill="#111"/>
<rect x="405.85" y="242.87" width="2.20" height="2.20" fill="#111"/>
<rect x="406.20" y="242.94" width="2.20" height="2.20" fill="#111"/>
<rect x="406.57" y="242.91" width="2.20" height="2.20" fill="#111"/>
<rect x="406.94" y="242.40" width="2.20" height="2.20" fill="#111"/>
<rect x="407.30" y="242.53" width="2.20" height="2.20" fill="#111"/>
<rect x="407.65" y="242.09" width="2.20" height="2.20" fill="#111"/>
<rect x="408.08" y="241.86" width="2.20" height="2.20" fill="#111"/>
<rect x="408.41" y="241.16" width="2.20" height="2.20" fill="#111"/>
<rect x="408.83" y="240.54" width="2.20" height="2.20" fill="#111"/>
<rect x="409.17" y="240.60" width="2.20" height="2.20" fill="#111"/>
<rect x="409.58" y="240.68" width="2.20" height="2.20" fill="#111"/>
<rect x="410.12" y="240.03" width="2.20" height="2.20" fill="#111"/>
<rect x="410.46" y="239.47" width="2.20" height="2.20" fill="#111"/>
<rect x="410.83" y="239.01" width="2.20" height="2.20" fill="#111"/>
<rect x="411.23" y="239.24" width="2.20" height="2.20" fill="#111"/>
<rect x="411.57" y="238.30" width="2.20" height="2.20" fill="#111"/>
<rect x="411.95" y="237.92" width="2.20" height="2.20" fill="#111"/>
<rect x="412.38" y="237.41" width="2.20" height="2.20" fill="#111"/>
<rect x="412.77" y="237.85" width="2.20" height="2.20" fill="#111"/>
<rect x="413.16" y="236.91" width="2.20" height="2.20" fill="#111"/>
<rect x="413.62" y="237.06" width="2.20" height="2.20" fill="#111"/>
<rect x="413.97" y="236.40" width="2.20" height="2.20" fill="#111"/>
<rect x="414.50" y="236.07" width="2.20" height="2.20" fill="#111"/>
<rect x="414.83" y="236.43" width="2.20" height="2.20" fill="#111"/>
<rect x="415.18" y="235.99" width="2.20" height="2.20" fill="#111"/>
<rect x="415.51" y="235.85" width="2.20" height="2.20" fill="#111"/>
<rect x="415.98" y="234.53" width="2.20" height="2.20" fill="#111"/>
<rect x="416.35" y="234.15" width="2.20" height="2.20" fill="#111"/>
<rect x="416.78" y="233.99" width="2.20" height="2.20" fill="#111"/>
<rect x="417.31" y="233.41" width="2.20" height="2.20" fill="#111"/>
<rect x="417.64" y="233.85" width="2.20" height="2.20" fill="#111"/>
<rect x="418.10" y="232.76" width="2.20" height="2.20" fill="#111"/>
<rect x="418.44" y="233.21" width="2.20" height="2.20" fill="#111"/>
<rect x="418.95" y="232.99" width="2.20" height="2.20" fill="#111"/>
<rect x="419.37" y="232.42" width="2.20" height="2.20" fill="#111"/>
<rect x="419.84" y="231.37" width="2.20" height="2.20" fill="#111"/>
<rect x="420.20" y="231.29" width="2.20" height="2.20" fill="#111"/>
<rect x="420.69" y="230.79" width="2.20" height="2.20" fill="#111"/>
<rect x="421.14" y="230.33" width="2.20" height="2.20" fill="#111"/>
<rect x="421.54" y="230.56" width="2.20" height="2.20" fill="#111"/>
<rect x="421.92" y="229.85" width="2.20" height="2.20" fill="#111"/>
<rect x="422.35" y="230.07" width="2.20" height="2.20" fill="#111"/>
<rect x="422.71" y="229.28" width="2.20" height="2.20" fill="#111"/>
<rect x="423.17" y="228.92" width="2.20" height="2.20" fill="#111"/>
<rect x="423.58" y="228.83" width="2.20" height="2.20" fill="#111"/>
<rect x="423.94" y="228.29" width="2.20" height="2.20" fill="#111"/>
<rect x="424.27" y="228.29" width="2.20" height="2.20" fill="#111"/>
<rect x="424.76" y="227.66" width="2.20" height="2.20" fill="#111"/>
<rect x="425.11" y="227.87" width="2.20" height="2.20" fill="#111"/>
<rect x="425.62" y="227.01" width="2.20" height="2.20" fill="#111"/>
<rect x="426.14" y="226.33" width="2.20" height="2.20" fill="#111"/>
<rect x="426.56" y="225.96" width="2.20" height="2.20" fill="#111"/>
<rect x="427.05" y="226.19" width="2.20" height="2.20" fill="#111"/>
<rect x="427.46" y="226.15" width="2.20" height="2.20" fill="#111"/>
<rect x="427.87" y="224.84" width="2.20" height="2.20" fill="#111"/>
<rect x="428.22" y="224.98" width="2.20" height="2.20" fill="#111"/>
<rect x="428.57" y="225.24" width="2.20" height="2.20" fill="#111"/>
<rect x="429.04" y="224.69" width="2.20" height="2.20" fill="#111"/>
<rect x="429.37" y="224.51" width="2.20" height="2.20" fill="#111"/>
<rect x="429.84" y="223.65" width="2.20" height="2.20" fill="#111"/>
<rect x="430.17" y="223.78" width="2.20" height="2.20" fill="#111"/>
<rect x="430.71" y="223.36" width="2.20" height="2.20" fill="#111"/>
<rect x="431.16" y="222.77" width="2.20" height="2.20" fill="#111"/>
<rect x="431.65" y="222.17" width="2.20" height="2.20" fill="#111"/>
<rect x="432.15" y="221.84" width="2.20" height="2.20" fill="#111"/>
<rect x="432.52" y="221.94" width="2.20" height="2.20" fill="#111"/>
<rect x="432.86" y="220.94" width="2.20" height="2.20" fill="#111"/>
<rect x="433.21" y="221.54" width="2.20" height="2.20" fill="#111"/>
<rect x="433.75" y="220.92" width="2.20" height="2.20" fill="#111"/>
<rect x="434.27" y="220.62" width="2.20" height="2.20" fill="#111"/>
<rect x="434.70" y="220.12" width="2.20" height="2.20" fill="#111"/>
<rect x="435.20" y="219.28" width="2.20" height="2.20" fill="#111"/>
<rect x="435.67" y="218.74" width="2.20" height="2.20" fill="#111"/>
<rect x="436.19" y="218.78" width="2.20" height="2.20" fill="#111"/>
<rect x="436.64" y="218.30" width="2.20" height="2.20" fill="#111"/>
<rect x="436.99" y="217.58" width="2.20" height="2.20" fill="#111"/>
<rect x="437.45" y="217.24" width="2.20" height="2.20" fill="#111"/>
<rect x="437.82" y="217.24" width="2.20" height="2.20" fill="#111"/>
<rect x="438.25" y="216.69" width="2.20" height="2.20" fill="#111"/>
<rect x="438.59" y="216.83" width="2.20" height="2.20" fill="#111"/>
<rect x="439.02" y="216.78" width="2.20" height="2.20" fill="#111"/>
<rect x="439.47" y="215.69" width="2.20" height="2.20" fill="#111"/>
<rect x="439.89" y="215.45" width="2.20" height="2.20" fill="#111"/>
<rect x="440.35" y="215.56" width="2.20" height="2.20" fill="#111"/>
<rect x="440.75" y="214.36" width="2.20" height="2.20" fill="#111"/>
<rect x="441.15" y="214.67" width="2.20" height="2.20" fill="#111"/>
<rect x="441.49" y="214.62" width="2.20" height="2.20" fill="#111"/>
<rect x="441.86" y="213.54" width="2.20" height="2.20" fill="#111"/>
<rect x="442.34" y="213.21" width="2.20" height="2.20" fill="#111"/>
<rect x="442.88" y="213.06" width="2.20" height="2.20" fill="#111"/>
<rect x="443.41" y="212.72" width="2.20" height="2.20" fill="#111"/>
<rect x="443.83" y="211.92" width="2.20" height="2.20" fill="#111"/>
<rect x="444.35" y="211.50" width="2.20" height="2.20" fill="#111"/>
<rect x="444.78" y="211.34" width="2.20" height="2.20" fill="#111"/>
<rect x="445.20" y="210.76" width="2.20" height="2.20" fill="#111"/>
<rect x="445.72" y="211.11" width="2.20" height="2.20" fill="#111"/>
<rect x="446.25" y="210.80" width="2.20" height="2.20" fill="#111"/>
<rect x="446.60" y="209.93" width="2.20" height="2.20" fill="#111"/>
<rect x="446.99" y="209.84" width="2.20" height="2.20" fill="#111"/>
<rect x="447.46" y="209.99" width="2.20" height="2.20" fill="#111"/>
<rect x="447.95" y="209.33" width="2.20" height="2.20" fill="#111"/>
<rect x="448.37" y="208.92" width="2.20" height="2.20" fill="#111"/>
<rect x="448.85" y="208.08" width="2.20" height="2.20" fill="#111"/>
<rect x="449.24" y="208.47" width="2.20" height="2.20" fill="#111"/>
<rect x="449.63" y="207.82" width="2.20" height="2.20" fill="#111"/>
<rect x="449.98" y="207.82" width="2.20" height="2.20" fill="#111"/>
<rect x="450.47" y="206.82" width="2.20" height="2.20" fill="#111"/>
<rect x="451.01" y="206.07" width="2.20" height="2.20" fill="#111"/>
<rect x="451.53" y="206.33" width="2.20" height="2.20" fill="#111"/>
<rect x="451.89" y="206.10" width="2.20" height="2.20" fill="#111"/>
<rect x="452.32" y="205.52" width="2.20" height="2.20" fill="#111"/>
<rect x="452.76" y="205.34" width="2.20" height="2.20" fill="#111"/>
<rect x="453.27" y="205.01" width="2.20" height="2.20" fill="#111"/>
<rect x="453.70" y="204.00" width="2.20" height="2.20" fill="#111"/>
<rect x="454.20" y="204.24" width="2.20" height="2.20" fill="#111"/>
<rect x="454.58" y="203.37" width="2.20" height="2.20" fill="#111"/>
<rect x="454.91" y="203.85" width="2.20" height="2.20" fill="#111"/>
<rect x="455.35" y="203.05" width="2.20" height="2.20" fill="#111"/>
<rect x="455.71" y="203.29" width="2.20" height="2.20" fill="#111"/>
<rect x="456.08" y="202.20" width="2.20" height="2.20" fill="#111"/>
<rect x="456.51" y="201.62" width="2.20" height="2.20" fill="#111"/>
<rect x="457.01" y="199.89" width="2.20" height="2.20" fill="#111"/>
<rect x="457.34" y="200.49" width="2.20" height="2.20" fill="#111"/>
<rect x="457.67" y="199.95" width="2.20" height="2.20" fill="#111"/>
<rect x="458.07" y="200.05" width="2.20" height="2.20" fill="#111"/>
<rect x="458.52" y="199.64" width="2.20" height="2.20" fill="#111"/>
<rect x="458.91" y="199.16" width="2.20" height="2.20" fill="#111"/>
<rect x="459.41" y="198.56" width="2.20" height="2.20" fill="#111"/>
<rect x="459.80" y="199.77" width="2.20" height="2.20" fill="#111"/>
<rect x="460.22" y="198.79" width="2.20" height="2.20" fill="#111"/>
<rect x="460.69" y="198.09" width="2.20" height="2.20" fill="#111"/>
<rect x="461.19" y="198.42" width="2.20" height="2.20" fill="#111"/>
<rect x="461.55" y="197.56" width="2.20" height="2.20" fill="#111"/>
<rect x="462.05" y="197.43" width="2.20" height="2.20" fill="#111"/>
<rect x="462.55" y="196.98" width="2.20" height="2.20" fill="#111"/>
<rect x="462.94" y="197.09" width="2.20" height="2.20" fill="#111"/>
<rect x="463.27" y="196.29" width="2.20" height="2.20" fill="#111"/>
<rect x="463.79" y="195.58" width="2.20" height="2.20" fill="#111"/>
<rect x="464.22" y="195.50" width="2.20" height="2.20" fill="#111"/>
<rect x="464.75" y="194.91" width="2.20" height="2.20" fill="#111"/>
<rect x="465.21" y="193.87" width="2.20" height="2.20" fill="#111"/>
<rect x="465.64" y="193.79" width="2.20" height="2.20" fill="#111"/>
<rect x="466.01" y="192.92" width="2.20" height="2.20" fill="#111"/>
<rect x="466.55" y="192.63" width="2.20" height="2.20" fill="#111"/>
<rect x="466.97" y="192.51" width="2.20" height="2.20" fill="#111"/>
<rect x="467.39" y="191.67" width="2.20" height="2.20" fill="#111"/>
<rect x="467.82" y="191.15" width="2.20" height="2.20" fill="#111"/>
<rect x="468.18" y="191.57" width="2.20" height="2.20" fill="#111"/>
<rect x="468.62" y="191.11" width="2.20" height="2.20" fill="#111"/>
<rect x="469.13" y="190.24" width="2.20" height="2.20" fill="#111"/>
<rect x="469.66" y="190.05" width="2.20" height="2.20" fill="#111"/>
<rect x="469.99" y="189.82" width="2.20" height="2.20" fill="#111"/>
<rect x="470.44" y="190.44" width="2.20" height="2.20" fill="#111"/>
<rect x="470.83" y="189.88" width="2.20" height="2.20" fill="#111"/>
<rect x="471.35" y="190.13" width="2.20" height="2.20" fill="#111"/>
<rect x="471.82" y="189.45" width="2.20" height="2.20" fill="#111"/>
<rect x="472.26" y="188.51" width="2.20" height="2.20" fill="#111"/>
<rect x="472.80" y="188.36" width="2.20" height="2.20" fill="#111"/>
<rect x="473.17" y="187.75" width="2.20" height="2.20" fill="#111"/>
<rect x="473.53" y="188.05" width="2.20" height="2.20" fill="#111"/>
<rect x="474.04" y="187.71" width="2.20" height="2.20" fill="#111"/>
<rect x="474.42" y="186.70" width="2.20" height="2.20" fill="#111"/>
<rect x="474.95" y="186.97" width="2.20" height="2.20" fill="#111"/>
<rect x="475.37" y="186.68" width="2.20" height="2.20" fill="#111"/>
<rect x="475.72" y="186.42" width="2.20" height="2.20" fill="#111"/>
<rect x="476.26" y="185.07" width="2.20" height="2.20" fill="#111"/>
<rect x="476.64" y="184.63" width="2.20" height="2.20" fill="#111"/>
<rect x="476.98" y="183.99" width="2.20" height="2.20" fill="#111"/>
<rect x="477.47" y="183.25" width="2.20" height="2.20" fill="#111"/>
<rect x="477.93" y="182.90" width="2.20" height="2.20" fill="#111"/>
<rect x="478.26" y="183.22" width="2.20" height="2.20" fill="#111"/>
<rect x="478.80" y="183.03" width="2.20" height="2.20" fill="#111"/>
<rect x="479.18" y="182.26" width="2.20" height="2.20" fill="#111"/>
<rect x="479.57" y="181.88" width="2.20" height="2.20" fill="#111"/>
<rect x="479.90" y="181.95" width="2.20" height="2.20" fill="#111"/>
<rect x="480.44" y="181.61" width="2.20" height="2.20" fill="#111"/>
<rect x="480.96" y="181.15" width="2.20" height="2.20" fill="#111"/>
<rect x="481.50" y="180.16" width="2.20" height="2.20" fill="#111"/>
<rect x="481.97" y="180.37" width="2.20" height="2.20" fill="#111"/>
<rect x="482.31" y="179.42" width="2.20" height="2.20" fill="#111"/>
<rect x="482.67" y="179.75" width="2.20" height="2.20" fill="#111"/>
<rect x="483.18" y="178.59" width="2.20" height="2.20" fill="#111"/>
<rect x="483.52" y="178.22" width="2.20" height="2.20" fill="#111"/>
<rect x="483.96" y="178.50" width="2.20" height="2.20" fill="#111"/>
<rect x="484.31" y="178.87" width="2.20" height="2.20" fill="#111"/>
<rect x="484.85" y="178.55" width="2.20" height="2.20" fill="#111"/>
<rect x="485.20" y="178.42" width="2.20" height="2.20" fill="#111"/>
<rect x="485.56" y="177.90" width="2.20" height="2.20" fill="#111"/>
<rect x="486.08" y="177.78" width="2.20" height="2.20" fill="#111"/>
<rect x="486.45" y="176.53" width="2.20" height="2.20" fill="#111"/>
<rect x="487.00" y="176.04" width="2.20" height="2.20" fill="#111"/>
<rect x="487.38" y="176.43" width="2.20" height="2.20" fill="#111"/>
<rect x="488.71" y="171.29" width="2.20" height="2.20" fill="#111"/>
<rect x="489.30" y="170.89" width="2.20" height="2.20" fill="#111"/>
<rect x="489.74" y="170.46" width="2.20" height="2.20" fill="#111"/>
<rect x="490.34" y="169.53" width="2.20" height="2.20" fill="#111"/>
<rect x="490.90" y="169.32" width="2.20" height="2.20" fill="#111"/>
<rect x="491.45" y="168.85" width="2.20" height="2.20" fill="#111"/>
<rect x="492.00" y="168.03" width="2.20" height="2.20" fill="#111"/>
<rect x="492.48" y="167.83" width="2.20" height="2.20" fill="#111"/>
<rect x="493.12" y="167.08" width="2.20" height="2.20" fill="#111"/>
<rect x="493.59" y="166.58" width="2.20" height="2.20" fill="#111"/>
<rect x="494.21" y="166.79" width="2.20" height="2.20" fill="#111"/>
<rect x="494.70" y="166.37" width="2.20" height="2.20" fill="#111"/>
<rect x="495.15" y="165.34" width="2.20" height="2.20" fill="#111"/>
<rect x="495.67" y="165.03" width="2.20" height="2.20" fill="#111"/>
<rect x="496.14" y="165.45" width="2.20" height="2.20" fill="#111"/>
<rect x="496.76" y="164.30" width="2.20" height="2.20" fill="#111"/>
<rect x="497.41" y="163.93" width="2.20" height="2.20" fill="#111"/>
<rect x="497.96" y="163.47" width="2.20" height="2.20" fill="#111"/>
<rect x="498.42" y="163.36" width="2.20" height="2.20" fill="#111"/>
<rect x="498.95" y="163.35" width="2.20" height="2.20" fill="#111"/>
<rect x="499.51" y="162.83" width="2.20" height="2.20" fill="#111"/>
<rect x="500.06" y="162.44" width="2.20" height="2.20" fill="#111"/>
<rect x="500.56" y="162.14" width="2.20" height="2.20" fill="#111"/>
<rect x="501.13" y="161.25" width="2.20" height="2.20" fill="#111"/>
<rect x="501.77" y="160.99" width="2.20" height="2.20" fill="#111"/>
<rect x="502.38" y="161.15" width="2.20" height="2.20" fill="#111"/>
<rect x="503.03" y="160.82" width="2.20" height="2.20" fill="#111"/>
<rect x="503.49" y="160.38" width="2.20" height="2.20" fill="#111"/>
<rect x="504.09" y="160.22" width="2.20" height="2.20" fill="#111"/>
<rect x="504.66" y="160.00" width="2.20" height="2.20" fill="#111"/>
<rect x="505.31" y="159.56" width="2.20" height="2.20" fill="#111"/>
<rect x="505.85" y="159.26" width="2.20" height="2.20" fill="#111"/>
<rect x="506.47" y="158.61" width="2.20" height="2.20" fill="#111"/>
<rect x="507.02" y="158.89" width="2.20" height="2.20" fill="#111"/>
<rect x="507.59" y="159.02" width="2.20" height="2.20" fill="#111"/>
<rect x="508.12" y="158.16" width="2.20" height="2.20" fill="#111"/>
<rect x="508.73" y="158.68" width="2.20" height="2.20" fill="#111"/>
<rect x="509.35" y="158.23" width="2.20" height="2.20" fill="#111"/>
<rect x="510.00" y="158.10" width="2.20" height="2.20" fill="#111"/>
<rect x="510.48" y="157.86" width="2.20" height="2.20" fill="#111"/>
<rect x="511.11" y="157.87" width="2.20" height="2.20" fill="#111"/>
<rect x="515.53" y="157.88" width="2.20" height="2.20" fill="#111"/>
<rect x="516.62" y="157.66" width="2.20" height="2.20" fill="#111"/>
<rect x="518.80" y="157.44" width="2.20" height="2.20" fill="#111"/>
<rect x="519.34" y="157.22" width="2.20" height="2.20" fill="#111"/>
<rect x="522.06" y="156.55" width="2.20" height="2.20" fill="#111"/>
<rect x="522.60" y="156.33" width="2.20" height="2.20" fill="#111"/>
<line x1="406.20" y1="244.00" x2="521.60" y2="150.00" stroke="#e8202a" stroke-width="1.0"/>
<rect x="40.8" y="281.6" width="141.8" height="108.0" fill="none" stroke="#454545" stroke-width="1.6"/>
<line x1="38.60" y1="380.50" x2="40.80" y2="380.50" stroke="#454545" stroke-width="1.3"/>
<text x="36.80" y="383.20" font-size="7.9" text-anchor="end" fill="#111" stroke="#111" stroke-width="0.22" font-weight="bold">25</text>
<line x1="38.60" y1="362.00" x2="40.80" y2="362.00" stroke="#454545" stroke-width="1.3"/>
<text x="36.80" y="364.70" font-size="7.9" text-anchor="end" fill="#111" stroke="#111" stroke-width="0.22" font-weight="bold">30</text>
<line x1="38.60" y1="343.50" x2="40.80" y2="343.50" stroke="#454545" stroke-width="1.3"/>
<text x="36.80" y="346.20" font-size="7.9" text-anchor="end" fill="#111" stroke="#111" stroke-width="0.22" font-weight="bold">35</text>
<line x1="38.60" y1="325.00" x2="40.80" y2="325.00" stroke="#454545" stroke-width="1.3"/>
<text x="36.80" y="327.70" font-size="7.9" text-anchor="end" fill="#111" stroke="#111" stroke-width="0.22" font-weight="bold">40</text>
<line x1="38.60" y1="306.50" x2="40.80" y2="306.50" stroke="#454545" stroke-width="1.3"/>
<text x="36.80" y="309.20" font-size="7.9" text-anchor="end" fill="#111" stroke="#111" stroke-width="0.22" font-weight="bold">45</text>
<line x1="38.60" y1="288.00" x2="40.80" y2="288.00" stroke="#454545" stroke-width="1.3"/>
<text x="36.80" y="290.70" font-size="7.9" text-anchor="end" fill="#111" stroke="#111" stroke-width="0.22" font-weight="bold">50</text>
<line x1="39.30" y1="371.25" x2="40.80" y2="371.25" stroke="#454545" stroke-width="1"/>
<line x1="39.30" y1="352.75" x2="40.80" y2="352.75" stroke="#454545" stroke-width="1"/>
<line x1="39.30" y1="334.25" x2="40.80" y2="334.25" stroke="#454545" stroke-width="1"/>
<line x1="39.30" y1="315.75" x2="40.80" y2="315.75" stroke="#454545" stroke-width="1"/>
<line x1="39.30" y1="297.25" x2="40.80" y2="297.25" stroke="#454545" stroke-width="1"/>
<line x1="45.50" y1="389.60" x2="45.50" y2="391.80" stroke="#454545" stroke-width="1.3"/>
<text x="45.50" y="400.50" font-size="7.7" text-anchor="middle" fill="#111" stroke="#111" stroke-width="0.22" font-weight="bold">0</text>
<line x1="67.50" y1="389.60" x2="67.50" y2="391.80" stroke="#454545" stroke-width="1.3"/>
<text x="67.50" y="400.50" font-size="7.7" text-anchor="middle" fill="#111" stroke="#111" stroke-width="0.22" font-weight="bold">20</text>
<line x1="89.50" y1="389.60" x2="89.50" y2="391.80" stroke="#454545" stroke-width="1.3"/>
<text x="89.50" y="400.50" font-size="7.7" text-anchor="middle" fill="#111" stroke="#111" stroke-width="0.22" font-weight="bold">40</text>
<line x1="111.50" y1="389.60" x2="111.50" y2="391.80" stroke="#454545" stroke-width="1.3"/>
<text x="111.50" y="400.50" font-size="7.7" text-anchor="middle" fill="#111" stroke="#111" stroke-width="0.22" font-weight="bold">60</text>
<line x1="133.50" y1="389.60" x2="133.50" y2="391.80" stroke="#454545" stroke-width="1.3"/>
<text x="133.50" y="400.50" font-size="7.7" text-anchor="middle" fill="#111" stroke="#111" stroke-width="0.22" font-weight="bold">80</text>
<line x1="155.50" y1="389.60" x2="155.50" y2="391.80" stroke="#454545" stroke-width="1.3"/>
<text x="155.50" y="400.50" font-size="7.7" text-anchor="middle" fill="#111" stroke="#111" stroke-width="0.22" font-weight="bold">100</text>
<line x1="177.50" y1="389.60" x2="177.50" y2="391.80" stroke="#454545" stroke-width="1.3"/>
<text x="177.50" y="400.50" font-size="7.7" text-anchor="middle" fill="#111" stroke="#111" stroke-width="0.22" font-weight="bold">120</text>
<line x1="56.50" y1="389.60" x2="56.50" y2="391.10" stroke="#454545" stroke-width="1"/>
<line x1="78.50" y1="389.60" x2="78.50" y2="391.10" stroke="#454545" stroke-width="1"/>
<line x1="100.50" y1="389.60" x2="100.50" y2="391.10" stroke="#454545" stroke-width="1"/>
<line x1="122.50" y1="389.60" x2="122.50" y2="391.10" stroke="#454545" stroke-width="1"/>
<line x1="144.50" y1="389.60" x2="144.50" y2="391.10" stroke="#454545" stroke-width="1"/>
<line x1="166.50" y1="389.60" x2="166.50" y2="391.10" stroke="#454545" stroke-width="1"/>
<text x="23.80" y="334.00" font-size="8.6" text-anchor="middle" fill="#111" stroke="#111" stroke-width="0.22" font-weight="bold" transform="rotate(-90 23.8 334)">Temperature(°C)</text>
<text x="115.80" y="408.00" font-size="8.4" text-anchor="middle" fill="#111" stroke="#111" stroke-width="0.22" font-weight="bold">Time(min)</text>
<polyline points="45.50,376.43 45.79,366.87 46.07,358.40 46.36,350.88 46.64,344.22 46.93,338.30 47.22,333.06 47.50,328.41 47.79,324.28 48.07,320.63 48.36,317.38 48.65,314.50 48.93,311.95 49.22,309.69 49.50,307.68 49.79,305.90 50.08,304.32 50.36,302.92 50.65,301.67 50.93,300.57 51.22,299.60 51.51,298.73 51.79,297.96 52.08,297.28 52.36,296.67 52.65,296.14 52.94,295.66 53.22,295.24 53.51,294.86 53.79,294.53 54.08,294.24 54.37,293.98 54.65,293.75 54.94,293.54 55.22,293.36 55.51,293.20 55.80,293.05 56.08,292.93 56.37,292.81 56.65,292.71 56.94,292.62 57.30,299.66 57.67,306.12 58.03,312.05 58.39,317.50 58.76,322.51 59.12,327.11 59.48,331.33 59.84,335.21 60.21,338.78 60.57,342.05 60.93,345.05 61.30,347.82 61.66,350.35 62.02,352.68 62.39,354.82 62.75,356.79 63.11,358.59 63.47,360.25 63.84,361.77 64.20,363.17 64.56,364.46 64.93,365.64 65.29,366.72 65.65,367.72 66.02,368.63 66.38,369.47 66.74,370.24 67.10,370.95 67.47,371.60 67.83,372.20 68.19,372.75 68.56,373.25 68.92,373.72 69.28,374.14 69.65,374.53 70.01,374.89 70.37,375.22 70.73,375.53 71.10,375.80 71.46,376.06 71.46,376.06 71.75,366.44 72.03,357.91 72.32,350.34 72.60,343.63 72.89,337.68 73.18,332.40 73.46,327.72 73.75,323.57 74.03,319.89 74.32,316.62 74.61,313.72 74.89,311.15 75.18,308.87 75.46,306.85 75.75,305.06 76.04,303.47 76.32,302.06 76.61,300.81 76.89,299.70 77.18,298.72 77.47,297.84 77.75,297.07 78.04,296.38 78.32,295.77 78.61,295.23 78.90,294.76 79.18,294.33 79.47,293.95 79.75,293.62 80.04,293.32 80.33,293.06 80.61,292.83 80.90,292.62 81.18,292.44 81.47,292.28 81.76,292.13 82.04,292.00 82.33,291.89 82.61,291.79 82.90,291.70 83.28,299.09 83.67,305.88 84.06,312.12 84.44,317.85 84.83,323.11 85.21,327.94 85.59,332.38 85.98,336.46 86.37,340.20 86.75,343.64 87.14,346.80 87.52,349.71 87.91,352.37 88.29,354.82 88.68,357.07 89.06,359.13 89.45,361.03 89.83,362.77 90.22,364.37 90.60,365.84 90.99,367.20 91.37,368.44 91.75,369.58 92.14,370.62 92.53,371.58 92.91,372.47 93.30,373.28 93.68,374.02 94.06,374.71 94.45,375.33 94.84,375.91 95.22,376.44 95.61,376.93 95.99,377.38 96.38,377.79 96.76,378.16 97.15,378.51 97.53,378.83 97.91,379.12 98.30,379.39 98.30,379.39 98.58,369.31 98.86,360.36 99.14,352.43 99.42,345.40 99.70,339.16 99.98,333.63 100.26,328.72 100.54,324.37 100.82,320.51 101.11,317.08 101.39,314.05 101.67,311.35 101.95,308.96 102.23,306.84 102.51,304.96 102.79,303.30 103.07,301.82 103.35,300.51 103.63,299.35 103.91,298.31 104.19,297.40 104.47,296.59 104.75,295.87 105.03,295.23 105.31,294.67 105.59,294.16 105.87,293.72 106.15,293.32 106.43,292.97 106.72,292.66 107.00,292.39 107.28,292.14 107.56,291.93 107.84,291.73 108.12,291.56 108.40,291.41 108.68,291.28 108.96,291.16 109.24,291.05 109.52,290.96 109.89,298.32 110.26,305.08 110.63,311.29 111.01,317.00 111.38,322.24 111.75,327.05 112.12,331.47 112.49,335.53 112.86,339.26 113.23,342.68 113.60,345.83 113.98,348.72 114.35,351.37 114.72,353.81 115.09,356.05 115.46,358.11 115.83,360.00 116.20,361.73 116.57,363.33 116.95,364.79 117.32,366.14 117.69,367.37 118.06,368.51 118.43,369.55 118.80,370.51 119.17,371.38 119.54,372.19 119.92,372.93 120.29,373.62 120.66,374.24 121.03,374.82 121.40,375.34 121.77,375.83 122.14,376.27 122.51,376.68 122.89,377.06 123.26,377.40 123.63,377.72 124.00,378.01 124.37,378.28 124.37,378.28 124.64,368.49 124.91,359.81 125.18,352.11 125.45,345.28 125.72,339.23 125.99,333.86 126.26,329.09 126.53,324.87 126.80,321.12 127.07,317.80 127.33,314.85 127.60,312.23 127.87,309.92 128.14,307.86 128.41,306.03 128.68,304.42 128.95,302.98 129.22,301.71 129.49,300.58 129.76,299.58 130.03,298.69 130.30,297.90 130.57,297.21 130.84,296.59 131.11,296.04 131.38,295.55 131.65,295.12 131.92,294.73 132.19,294.39 132.45,294.09 132.72,293.83 132.99,293.59 133.26,293.38 133.53,293.19 133.80,293.03 134.07,292.88 134.34,292.75 134.61,292.63 134.88,292.53 135.15,292.44 135.52,299.65 135.88,306.26 136.25,312.34 136.61,317.93 136.98,323.05 137.34,327.76 137.71,332.09 138.08,336.07 138.44,339.72 138.81,343.07 139.17,346.15 139.54,348.98 139.90,351.57 140.27,353.96 140.64,356.15 141.00,358.17 141.37,360.02 141.73,361.71 142.10,363.27 142.47,364.71 142.83,366.02 143.20,367.23 143.56,368.34 143.93,369.36 144.29,370.30 144.66,371.16 145.03,371.95 145.39,372.68 145.76,373.34 146.12,373.96 146.49,374.52 146.85,375.04 147.22,375.51 147.59,375.95 147.95,376.35 148.32,376.72 148.68,377.05 149.05,377.36 149.41,377.65 149.78,377.91 149.78,377.91 150.06,368.29 150.34,359.76 150.62,352.19 150.90,345.48 151.18,339.53 151.46,334.25 151.74,329.57 152.02,325.42 152.30,321.74 152.59,318.47 152.87,315.57 153.15,313.00 153.43,310.72 153.71,308.70 153.99,306.91 154.27,305.32 154.55,303.91 154.83,302.66 155.11,301.55 155.39,300.57 155.67,299.69 155.95,298.92 156.23,298.23 156.51,297.62 156.79,297.08 157.07,296.61 157.35,296.18 157.63,295.80 157.91,295.47 158.19,295.17 158.48,294.91 158.76,294.68 159.04,294.47 159.32,294.29 159.60,294.13 159.88,293.98 160.16,293.85 160.44,293.74 160.72,293.64 161.00,293.55 161.36,300.66 161.72,307.19 162.07,313.19 162.43,318.70 162.79,323.77 163.15,328.42 163.50,332.69 163.86,336.61 164.22,340.21 164.57,343.52 164.93,346.56 165.29,349.35 165.65,351.92 166.00,354.27 166.36,356.44 166.72,358.42 167.08,360.25 167.44,361.92 167.79,363.46 168.15,364.88 168.51,366.18 168.87,367.37 169.22,368.47 169.58,369.47 169.94,370.40 170.30,371.25 170.65,372.03 171.01,372.75 171.37,373.40 171.73,374.01 172.08,374.56 172.44,375.07 172.80,375.54 173.16,375.97 173.51,376.37 173.87,376.73 174.23,377.06 174.59,377.37 174.94,377.65 175.30,377.91" fill="none" stroke="#1a22ee" stroke-width="1.6" stroke-linejoin="round"/>
<text x="69.00" y="289.80" font-size="5.8" text-anchor="start" fill="#111" stroke="#111" stroke-width="0.22" font-weight="bold">laser off</text>
<line x1="67.60" y1="288.20" x2="59.50" y2="291.60" stroke="#111" stroke-width="0.7"/>
<path d="M58.6,292 L61.8,289.6 L62.6,291.5 Z" fill="#111"/>
<text x="56.40" y="385.50" font-size="5.9" text-anchor="start" fill="#111" stroke="#111" stroke-width="0.22" font-weight="bold">laser on</text>
<line x1="55.50" y1="382.70" x2="48.80" y2="378.20" stroke="#111" stroke-width="0.7"/>
<path d="M48.2,377.8 L51.6,378.4 L50.4,380.2 Z" fill="#111"/>
<rect x="226" y="285.8" width="142" height="105.59999999999997" fill="none" stroke="#454545" stroke-width="1.6"/>
<line x1="223.80" y1="391.40" x2="226.00" y2="391.40" stroke="#454545" stroke-width="1.3"/>
<text x="222.60" y="393.80" font-size="7" text-anchor="end" fill="#111" stroke="#111" stroke-width="0.22" font-weight="bold">0</text>
<line x1="223.80" y1="372.20" x2="226.00" y2="372.20" stroke="#454545" stroke-width="1.3"/>
<text x="222.60" y="374.60" font-size="7" text-anchor="end" fill="#111" stroke="#111" stroke-width="0.22" font-weight="bold">−10</text>
<line x1="223.80" y1="353.00" x2="226.00" y2="353.00" stroke="#454545" stroke-width="1.3"/>
<text x="222.60" y="355.40" font-size="7" text-anchor="end" fill="#111" stroke="#111" stroke-width="0.22" font-weight="bold">−20</text>
<line x1="223.80" y1="333.80" x2="226.00" y2="333.80" stroke="#454545" stroke-width="1.3"/>
<text x="222.60" y="336.20" font-size="7" text-anchor="end" fill="#111" stroke="#111" stroke-width="0.22" font-weight="bold">−30</text>
<line x1="223.80" y1="314.60" x2="226.00" y2="314.60" stroke="#454545" stroke-width="1.3"/>
<text x="222.60" y="317.00" font-size="7" text-anchor="end" fill="#111" stroke="#111" stroke-width="0.22" font-weight="bold">−40</text>
<line x1="223.80" y1="295.40" x2="226.00" y2="295.40" stroke="#454545" stroke-width="1.3"/>
<text x="222.60" y="297.80" font-size="7" text-anchor="end" fill="#111" stroke="#111" stroke-width="0.22" font-weight="bold">−50</text>
<line x1="224.50" y1="381.80" x2="226.00" y2="381.80" stroke="#454545" stroke-width="1"/>
<line x1="224.50" y1="362.60" x2="226.00" y2="362.60" stroke="#454545" stroke-width="1"/>
<line x1="224.50" y1="343.40" x2="226.00" y2="343.40" stroke="#454545" stroke-width="1"/>
<line x1="224.50" y1="324.20" x2="226.00" y2="324.20" stroke="#454545" stroke-width="1"/>
<line x1="224.50" y1="305.00" x2="226.00" y2="305.00" stroke="#454545" stroke-width="1"/>
<line x1="255.80" y1="391.40" x2="255.80" y2="393.60" stroke="#454545" stroke-width="1.3"/>
<line x1="327.00" y1="391.40" x2="327.00" y2="393.60" stroke="#454545" stroke-width="1.3"/>
<text x="255.80" y="399.50" font-size="7.2" text-anchor="middle" fill="#111" stroke="#111" stroke-width="0.22" font-weight="bold">PDA</text>
<text x="326.60" y="399.50" font-size="7.2" text-anchor="middle" fill="#111" stroke="#111" stroke-width="0.22" font-weight="bold">PDA-150PY</text>
<text x="209.40" y="337.40" font-size="8.6" text-anchor="middle" fill="#111" stroke="#111" stroke-width="0.22" font-weight="bold" transform="rotate(-90 209.4 337.4)">Zeta potential (mV)</text>
<rect x="244.00" y="316.14" width="11.80" height="75.26" fill="#7f7ff7" stroke="#555" stroke-width="0.3"/>
<line x1="249.90" y1="320.94" x2="249.90" y2="311.34" stroke="#333" stroke-width="0.6"/>
<line x1="249.10" y1="320.94" x2="250.70" y2="320.94" stroke="#333" stroke-width="0.6"/>
<line x1="249.10" y1="311.34" x2="250.70" y2="311.34" stroke="#333" stroke-width="0.6"/>
<rect x="255.60" y="348.58" width="11.80" height="42.82" fill="#7cc4bc" stroke="#555" stroke-width="0.3"/>
<line x1="261.50" y1="350.89" x2="261.50" y2="346.28" stroke="#333" stroke-width="0.6"/>
<line x1="260.70" y1="350.89" x2="262.30" y2="350.89" stroke="#333" stroke-width="0.6"/>
<line x1="260.70" y1="346.28" x2="262.30" y2="346.28" stroke="#333" stroke-width="0.6"/>
<rect x="315.10" y="307.69" width="11.80" height="83.71" fill="#7f7ff7" stroke="#555" stroke-width="0.3"/>
<line x1="321.00" y1="310.76" x2="321.00" y2="304.62" stroke="#333" stroke-width="0.6"/>
<line x1="320.20" y1="310.76" x2="321.80" y2="310.76" stroke="#333" stroke-width="0.6"/>
<line x1="320.20" y1="304.62" x2="321.80" y2="304.62" stroke="#333" stroke-width="0.6"/>
<rect x="326.80" y="353.77" width="11.80" height="37.63" fill="#7cc4bc" stroke="#555" stroke-width="0.3"/>
<line x1="332.70" y1="359.53" x2="332.70" y2="348.01" stroke="#333" stroke-width="0.6"/>
<line x1="331.90" y1="359.53" x2="333.50" y2="359.53" stroke="#333" stroke-width="0.6"/>
<line x1="331.90" y1="348.01" x2="333.50" y2="348.01" stroke="#333" stroke-width="0.6"/>
<rect x="233.20" y="289.70" width="10.90" height="5.00" fill="#7f7ff7"/>
<text x="245.90" y="294.10" font-size="5.7" text-anchor="start" fill="#111" stroke="#111" stroke-width="0.22" font-weight="bold">NPs</text>
<rect x="259.00" y="289.70" width="11.10" height="5.00" fill="#7cc4bc"/>
<text x="272.00" y="294.10" font-size="5.7" text-anchor="start" fill="#111" stroke="#111" stroke-width="0.22" font-weight="bold">PEG modified</text>
<rect x="418.8" y="285.2" width="107.4" height="102.8" fill="#d9dcd8"/>
<rect x="492.98" y="321.65" width="3.49" height="2.11" fill="#dde2de" opacity="0.6"/>
<rect x="464.68" y="376.29" width="4.34" height="1.44" fill="#e2e6e2" opacity="0.6"/>
<rect x="441.87" y="322.59" width="2.56" height="1.24" fill="#e2e6e2" opacity="0.6"/>
<rect x="452.35" y="313.80" width="2.11" height="3.20" fill="#e2e6e2" opacity="0.6"/>
<rect x="451.64" y="329.94" width="5.31" height="3.51" fill="#dde2de" opacity="0.6"/>
<rect x="513.96" y="329.64" width="4.04" height="3.78" fill="#e2e6e2" opacity="0.6"/>
<rect x="442.39" y="299.39" width="3.15" height="1.57" fill="#dde2de" opacity="0.6"/>
<rect x="504.65" y="345.38" width="3.72" height="3.39" fill="#e2e6e2" opacity="0.6"/>
<rect x="458.81" y="334.52" width="3.89" height="1.42" fill="#cfd4d0" opacity="0.6"/>
<rect x="440.18" y="349.08" width="3.74" height="1.29" fill="#dde2de" opacity="0.6"/>
<rect x="520.83" y="354.62" width="2.26" height="3.63" fill="#e2e6e2" opacity="0.6"/>
<rect x="496.59" y="317.61" width="3.30" height="3.74" fill="#e2e6e2" opacity="0.6"/>
<rect x="484.66" y="294.92" width="4.58" height="3.64" fill="#dde2de" opacity="0.6"/>
<rect x="442.50" y="317.77" width="5.83" height="1.16" fill="#d2d7d3" opacity="0.6"/>
<rect x="472.88" y="375.79" width="4.30" height="1.26" fill="#cfd4d0" opacity="0.6"/>
<rect x="443.15" y="332.38" width="3.14" height="3.95" fill="#d2d7d3" opacity="0.6"/>
<rect x="487.79" y="338.34" width="4.29" height="2.03" fill="#cfd4d0" opacity="0.6"/>
<rect x="480.15" y="343.69" width="4.48" height="2.06" fill="#dde2de" opacity="0.6"/>
<rect x="498.95" y="376.50" width="3.79" height="3.16" fill="#cfd4d0" opacity="0.6"/>
<rect x="508.20" y="348.46" width="5.49" height="1.65" fill="#d2d7d3" opacity="0.6"/>
<rect x="504.57" y="379.26" width="5.71" height="2.50" fill="#e2e6e2" opacity="0.6"/>
<rect x="506.59" y="317.04" width="3.31" height="1.74" fill="#e2e6e2" opacity="0.6"/>
<rect x="510.53" y="353.59" width="2.95" height="2.10" fill="#e2e6e2" opacity="0.6"/>
<rect x="442.24" y="314.00" width="3.05" height="3.08" fill="#dde2de" opacity="0.6"/>
<rect x="454.38" y="296.62" width="3.22" height="1.52" fill="#cfd4d0" opacity="0.6"/>
<rect x="436.50" y="333.80" width="2.86" height="3.01" fill="#cfd4d0" opacity="0.6"/>
<rect x="482.37" y="303.08" width="4.39" height="2.27" fill="#d2d7d3" opacity="0.6"/>
<rect x="437.43" y="315.68" width="2.22" height="3.36" fill="#dde2de" opacity="0.6"/>
<rect x="508.40" y="334.52" width="3.07" height="3.70" fill="#cfd4d0" opacity="0.6"/>
<rect x="490.31" y="307.69" width="3.38" height="3.99" fill="#d2d7d3" opacity="0.6"/>
<rect x="469.25" y="303.37" width="3.36" height="3.20" fill="#d2d7d3" opacity="0.6"/>
<rect x="479.68" y="296.27" width="5.40" height="2.43" fill="#cfd4d0" opacity="0.6"/>
<rect x="475.09" y="371.81" width="3.50" height="1.13" fill="#d2d7d3" opacity="0.6"/>
<rect x="455.12" y="348.97" width="4.81" height="3.93" fill="#e2e6e2" opacity="0.6"/>
<rect x="480.66" y="343.91" width="4.17" height="3.97" fill="#dde2de" opacity="0.6"/>
<rect x="505.94" y="360.30" width="5.69" height="2.27" fill="#dde2de" opacity="0.6"/>
<rect x="477.10" y="361.90" width="3.92" height="2.70" fill="#d2d7d3" opacity="0.6"/>
<rect x="444.98" y="355.26" width="4.85" height="1.97" fill="#d2d7d3" opacity="0.6"/>
<rect x="435.86" y="377.02" width="2.69" height="2.18" fill="#d2d7d3" opacity="0.6"/>
<rect x="439.41" y="326.33" width="2.43" height="1.16" fill="#dde2de" opacity="0.6"/>
<rect x="469.16" y="305.65" width="2.48" height="2.66" fill="#cfd4d0" opacity="0.6"/>
<rect x="431.20" y="324.22" width="3.59" height="1.20" fill="#dde2de" opacity="0.6"/>
<rect x="447.74" y="316.92" width="2.47" height="3.84" fill="#dde2de" opacity="0.6"/>
<rect x="468.58" y="328.90" width="3.48" height="3.04" fill="#dde2de" opacity="0.6"/>
<rect x="446.53" y="363.52" width="4.67" height="1.74" fill="#cfd4d0" opacity="0.6"/>
<rect x="445.87" y="320.26" width="5.61" height="1.30" fill="#dde2de" opacity="0.6"/>
<rect x="492.17" y="360.55" width="5.94" height="2.00" fill="#cfd4d0" opacity="0.6"/>
<rect x="430.94" y="368.35" width="2.66" height="3.00" fill="#cfd4d0" opacity="0.6"/>
<rect x="447.02" y="336.38" width="5.60" height="2.32" fill="#dde2de" opacity="0.6"/>
<rect x="463.53" y="342.07" width="5.91" height="2.29" fill="#d2d7d3" opacity="0.6"/>
<rect x="449.71" y="312.73" width="2.62" height="1.09" fill="#d2d7d3" opacity="0.6"/>
<rect x="463.86" y="285.65" width="4.02" height="3.86" fill="#cfd4d0" opacity="0.6"/>
<rect x="507.17" y="358.24" width="3.03" height="2.88" fill="#dde2de" opacity="0.6"/>
<rect x="477.62" y="382.05" width="2.81" height="1.48" fill="#dde2de" opacity="0.6"/>
<rect x="520.97" y="359.45" width="3.71" height="1.87" fill="#d2d7d3" opacity="0.6"/>
<rect x="431.14" y="319.18" width="3.04" height="1.26" fill="#cfd4d0" opacity="0.6"/>
<rect x="427.31" y="353.56" width="2.03" height="1.25" fill="#e2e6e2" opacity="0.6"/>
<rect x="500.66" y="324.58" width="4.21" height="2.99" fill="#d2d7d3" opacity="0.6"/>
<rect x="465.04" y="303.11" width="2.28" height="3.05" fill="#e2e6e2" opacity="0.6"/>
<rect x="462.19" y="286.18" width="4.07" height="1.98" fill="#dde2de" opacity="0.6"/>
<rect x="520.00" y="295.66" width="3.55" height="3.42" fill="#cfd4d0" opacity="0.6"/>
<rect x="465.29" y="352.24" width="4.51" height="2.32" fill="#dde2de" opacity="0.6"/>
<rect x="443.61" y="286.08" width="2.92" height="2.25" fill="#cfd4d0" opacity="0.6"/>
<rect x="428.97" y="317.07" width="4.18" height="2.79" fill="#e2e6e2" opacity="0.6"/>
<rect x="449.16" y="287.98" width="4.35" height="1.67" fill="#e2e6e2" opacity="0.6"/>
<rect x="466.23" y="336.56" width="4.65" height="3.21" fill="#d2d7d3" opacity="0.6"/>
<rect x="473.25" y="328.16" width="5.20" height="1.53" fill="#dde2de" opacity="0.6"/>
<rect x="466.01" y="338.55" width="5.71" height="2.75" fill="#dde2de" opacity="0.6"/>
<rect x="483.85" y="329.37" width="3.23" height="2.57" fill="#cfd4d0" opacity="0.6"/>
<rect x="442.50" y="338.11" width="2.49" height="2.50" fill="#dde2de" opacity="0.6"/>
<rect x="468.88" y="310.26" width="2.08" height="1.07" fill="#d2d7d3" opacity="0.6"/>
<rect x="483.64" y="291.32" width="5.62" height="1.14" fill="#d2d7d3" opacity="0.6"/>
<rect x="489.22" y="315.97" width="3.97" height="3.34" fill="#d2d7d3" opacity="0.6"/>
<rect x="502.39" y="316.40" width="3.62" height="2.95" fill="#e2e6e2" opacity="0.6"/>
<rect x="430.82" y="353.59" width="2.33" height="3.23" fill="#cfd4d0" opacity="0.6"/>
<rect x="474.21" y="362.39" width="4.52" height="1.25" fill="#cfd4d0" opacity="0.6"/>
<rect x="489.08" y="336.74" width="3.98" height="2.09" fill="#e2e6e2" opacity="0.6"/>
<rect x="470.98" y="294.08" width="4.24" height="2.17" fill="#dde2de" opacity="0.6"/>
<rect x="467.40" y="345.66" width="3.29" height="2.44" fill="#e2e6e2" opacity="0.6"/>
<rect x="485.06" y="364.17" width="2.82" height="1.29" fill="#dde2de" opacity="0.6"/>
<rect x="446.22" y="333.39" width="3.91" height="1.61" fill="#d2d7d3" opacity="0.6"/>
<rect x="454.04" y="291.35" width="5.99" height="1.15" fill="#cfd4d0" opacity="0.6"/>
<rect x="460.82" y="324.04" width="2.39" height="1.54" fill="#dde2de" opacity="0.6"/>
<rect x="471.15" y="311.02" width="4.26" height="2.02" fill="#d2d7d3" opacity="0.6"/>
<rect x="463.83" y="289.50" width="3.45" height="3.18" fill="#d2d7d3" opacity="0.6"/>
<rect x="447.34" y="307.45" width="5.52" height="3.30" fill="#cfd4d0" opacity="0.6"/>
<rect x="422.22" y="326.83" width="4.42" height="2.20" fill="#e2e6e2" opacity="0.6"/>
<rect x="468.72" y="335.78" width="4.45" height="2.42" fill="#d2d7d3" opacity="0.6"/>
<rect x="425.06" y="341.48" width="5.66" height="1.58" fill="#cfd4d0" opacity="0.6"/>
<rect x="511.66" y="365.53" width="5.92" height="1.41" fill="#e2e6e2" opacity="0.6"/>
<rect x="499.77" y="375.44" width="2.42" height="1.64" fill="#e2e6e2" opacity="0.6"/>
<rect x="514.54" y="340.43" width="5.63" height="2.31" fill="#cfd4d0" opacity="0.6"/>
<rect x="434.10" y="307.05" width="3.99" height="2.88" fill="#d2d7d3" opacity="0.6"/>
<rect x="472.45" y="288.40" width="4.36" height="2.03" fill="#e2e6e2" opacity="0.6"/>
<rect x="476.45" y="306.92" width="3.13" height="1.26" fill="#e2e6e2" opacity="0.6"/>
<rect x="511.32" y="309.89" width="5.49" height="2.00" fill="#cfd4d0" opacity="0.6"/>
<rect x="495.87" y="294.69" width="5.10" height="3.50" fill="#dde2de" opacity="0.6"/>
<rect x="440.57" y="358.44" width="4.03" height="1.89" fill="#e2e6e2" opacity="0.6"/>
<rect x="506.12" y="378.89" width="5.28" height="1.21" fill="#dde2de" opacity="0.6"/>
<rect x="445.04" y="305.87" width="3.38" height="1.65" fill="#cfd4d0" opacity="0.6"/>
<rect x="439.80" y="348.04" width="3.82" height="1.75" fill="#e2e6e2" opacity="0.6"/>
<rect x="474.46" y="325.01" width="5.31" height="2.58" fill="#dde2de" opacity="0.6"/>
<rect x="465.91" y="305.91" width="4.66" height="1.32" fill="#dde2de" opacity="0.6"/>
<rect x="512.43" y="325.36" width="5.18" height="3.34" fill="#dde2de" opacity="0.6"/>
<rect x="443.74" y="360.23" width="2.10" height="3.61" fill="#e2e6e2" opacity="0.6"/>
<rect x="454.75" y="302.46" width="2.19" height="3.34" fill="#dde2de" opacity="0.6"/>
<rect x="482.17" y="292.31" width="4.22" height="1.06" fill="#dde2de" opacity="0.6"/>
<rect x="465.01" y="356.22" width="3.93" height="1.36" fill="#cfd4d0" opacity="0.6"/>
<rect x="436.70" y="370.26" width="3.11" height="3.54" fill="#d2d7d3" opacity="0.6"/>
<rect x="439.57" y="331.58" width="3.45" height="2.10" fill="#d2d7d3" opacity="0.6"/>
<rect x="420.12" y="339.98" width="4.26" height="2.61" fill="#d2d7d3" opacity="0.6"/>
<rect x="420.07" y="292.91" width="2.74" height="3.94" fill="#dde2de" opacity="0.6"/>
<rect x="430.93" y="372.13" width="4.95" height="3.89" fill="#cfd4d0" opacity="0.6"/>
<rect x="451.64" y="321.77" width="5.36" height="3.54" fill="#e2e6e2" opacity="0.6"/>
<rect x="510.21" y="383.47" width="5.93" height="1.50" fill="#e2e6e2" opacity="0.6"/>
<rect x="485.64" y="335.70" width="4.98" height="3.39" fill="#dde2de" opacity="0.6"/>
<rect x="522.89" y="353.19" width="2.44" height="3.29" fill="#e2e6e2" opacity="0.6"/>
<rect x="488.24" y="305.66" width="3.12" height="2.99" fill="#e2e6e2" opacity="0.6"/>
<rect x="421.98" y="306.58" width="2.15" height="2.53" fill="#d2d7d3" opacity="0.6"/>
<rect x="516.50" y="306.93" width="4.98" height="2.86" fill="#d2d7d3" opacity="0.6"/>
<rect x="498.70" y="355.32" width="5.44" height="3.11" fill="#e2e6e2" opacity="0.6"/>
<rect x="486.17" y="287.02" width="2.51" height="3.54" fill="#d2d7d3" opacity="0.6"/>
<rect x="465.29" y="337.70" width="2.55" height="3.19" fill="#d2d7d3" opacity="0.6"/>
<rect x="502.19" y="371.46" width="2.31" height="3.28" fill="#dde2de" opacity="0.6"/>
<rect x="475.66" y="318.87" width="2.97" height="3.72" fill="#d2d7d3" opacity="0.6"/>
<rect x="474.70" y="314.68" width="5.06" height="3.33" fill="#dde2de" opacity="0.6"/>
<rect x="449.78" y="292.87" width="4.92" height="2.78" fill="#d2d7d3" opacity="0.6"/>
<rect x="461.08" y="381.38" width="5.28" height="3.76" fill="#d2d7d3" opacity="0.6"/>
<rect x="484.09" y="286.26" width="3.76" height="1.16" fill="#dde2de" opacity="0.6"/>
<rect x="485.63" y="338.48" width="4.47" height="2.49" fill="#dde2de" opacity="0.6"/>
<rect x="473.39" y="334.62" width="5.39" height="4.00" fill="#cfd4d0" opacity="0.6"/>
<rect x="428.07" y="354.59" width="5.13" height="2.19" fill="#d2d7d3" opacity="0.6"/>
<rect x="436.10" y="370.94" width="5.84" height="3.72" fill="#cfd4d0" opacity="0.6"/>
<rect x="446.24" y="384.64" width="4.50" height="1.71" fill="#cfd4d0" opacity="0.6"/>
<rect x="489.20" y="297.37" width="4.64" height="3.44" fill="#dde2de" opacity="0.6"/>
<rect x="488.81" y="285.65" width="3.21" height="2.80" fill="#d2d7d3" opacity="0.6"/>
<rect x="513.89" y="349.16" width="2.71" height="2.38" fill="#dde2de" opacity="0.6"/>
<rect x="477.72" y="316.57" width="3.37" height="1.19" fill="#d2d7d3" opacity="0.6"/>
<rect x="476.50" y="321.85" width="3.39" height="1.02" fill="#e2e6e2" opacity="0.6"/>
<rect x="422.93" y="301.29" width="2.68" height="2.09" fill="#e2e6e2" opacity="0.6"/>
<rect x="504.71" y="333.15" width="2.05" height="2.64" fill="#e2e6e2" opacity="0.6"/>
<rect x="489.60" y="317.39" width="4.24" height="2.05" fill="#dde2de" opacity="0.6"/>
<rect x="500.60" y="320.41" width="2.60" height="2.29" fill="#d2d7d3" opacity="0.6"/>
<rect x="492.01" y="291.29" width="5.37" height="3.80" fill="#d2d7d3" opacity="0.6"/>
<rect x="491.65" y="347.26" width="3.68" height="2.09" fill="#dde2de" opacity="0.6"/>
<rect x="419.83" y="381.82" width="3.63" height="1.13" fill="#e2e6e2" opacity="0.6"/>
<rect x="490.70" y="327.83" width="4.75" height="3.54" fill="#cfd4d0" opacity="0.6"/>
<rect x="423.42" y="312.04" width="2.73" height="3.72" fill="#dde2de" opacity="0.6"/>
<rect x="455.21" y="326.82" width="5.71" height="3.09" fill="#e2e6e2" opacity="0.6"/>
<rect x="456.07" y="336.28" width="3.48" height="2.07" fill="#d2d7d3" opacity="0.6"/>
<rect x="482.91" y="308.34" width="2.98" height="1.47" fill="#e2e6e2" opacity="0.6"/>
<rect x="446.36" y="299.24" width="5.92" height="3.28" fill="#d2d7d3" opacity="0.6"/>
<rect x="474.03" y="367.77" width="5.53" height="1.50" fill="#d2d7d3" opacity="0.6"/>
<rect x="505.05" y="368.83" width="5.04" height="2.18" fill="#d2d7d3" opacity="0.6"/>
<rect x="440.46" y="350.78" width="5.49" height="2.99" fill="#cfd4d0" opacity="0.6"/>
<rect x="456.65" y="364.74" width="3.21" height="3.71" fill="#dde2de" opacity="0.6"/>
<rect x="487.90" y="323.32" width="2.62" height="2.03" fill="#d2d7d3" opacity="0.6"/>
<rect x="426.85" y="384.07" width="5.54" height="3.28" fill="#dde2de" opacity="0.6"/>
<rect x="447.93" y="304.92" width="4.61" height="1.64" fill="#d2d7d3" opacity="0.6"/>
<rect x="493.92" y="337.82" width="5.48" height="1.79" fill="#dde2de" opacity="0.6"/>
<text x="431.50" y="284.80" font-size="6" text-anchor="middle" fill="#111" stroke="#111" stroke-width="0.22" font-weight="bold">PBS</text>
<text x="472.30" y="284.80" font-size="6" text-anchor="middle" fill="#111" stroke="#111" stroke-width="0.22" font-weight="bold">DMEM</text>
<text x="509.60" y="284.80" font-size="6.2" text-anchor="middle" fill="#111" stroke="#111" stroke-width="0.22" font-weight="bold">DMEM/FBS</text>
<text x="411.80" y="310.60" font-size="5.7" text-anchor="middle" fill="#111" stroke="#111" stroke-width="0.22" font-weight="bold" transform="rotate(90 411.8 310.6)">PDA</text>
<text x="411.80" y="351.70" font-size="6.8" text-anchor="middle" fill="#111" stroke="#111" stroke-width="0.22" font-weight="bold" transform="rotate(90 411.8 351.7)">PDA-150PY</text>
<rect x="424.80" y="285.20" width="12.80" height="19.80" fill="#e9e7df"/>
<rect x="424.80" y="285.20" width="1" height="19.80" fill="#d6d6d0"/>
<rect x="436.60" y="285.20" width="1" height="19.80" fill="#d6d6d0"/>
<path d="M425.50,305.00 L436.90,305.00 L435.76,318.95 L433.81,329.80 L432.21,335.50 L431.30,336.00 L430.39,335.50 L428.79,329.80 L426.64,318.95 Z" fill="#c49a4a"/>
<path d="M428.69,307.00 L433.71,307.00 L432.21,329.80 L430.39,329.80 Z" fill="#d2ac5c" opacity="0.6"/>
<rect x="425.50" y="305.00" width="11.40" height="1.4" fill="#a07838"/>
<rect x="468.10" y="285.20" width="12.20" height="17.80" fill="#e9e7df"/>
<rect x="468.10" y="285.20" width="1" height="17.80" fill="#d6d6d0"/>
<rect x="479.30" y="285.20" width="1" height="17.80" fill="#d6d6d0"/>
<path d="M468.80,303.00 L479.60,303.00 L478.52,317.58 L476.58,328.92 L475.06,334.90 L474.20,335.40 L473.34,334.90 L471.82,328.92 L469.88,317.58 Z" fill="#d53a4c"/>
<path d="M471.82,305.00 L476.58,305.00 L475.06,328.92 L473.34,328.92 Z" fill="#e04c5c" opacity="0.6"/>
<rect x="468.80" y="303.00" width="10.80" height="1.4" fill="#b82838"/>
<rect x="508.30" y="285.20" width="11.20" height="19.80" fill="#e9e7df"/>
<rect x="508.30" y="285.20" width="1" height="19.80" fill="#d6d6d0"/>
<rect x="518.50" y="285.20" width="1" height="19.80" fill="#d6d6d0"/>
<path d="M509.00,305.00 L518.80,305.00 L517.82,318.68 L515.76,329.32 L514.38,334.90 L513.60,335.40 L512.82,334.90 L511.44,329.32 L509.98,318.68 Z" fill="#c42452"/>
<path d="M511.74,307.00 L516.06,307.00 L514.38,329.32 L512.82,329.32 Z" fill="#cc3460" opacity="0.6"/>
<rect x="509.00" y="305.00" width="9.80" height="1.4" fill="#a81a44"/>
<rect x="423.40" y="338.00" width="14.90" height="3.00" fill="#ebe9e2"/>
<rect x="424.80" y="341.00" width="12.10" height="14.00" fill="#e9e7df"/>
<rect x="424.80" y="341.00" width="1" height="14.00" fill="#d6d6d0"/>
<rect x="435.90" y="341.00" width="1" height="14.00" fill="#d6d6d0"/>
<path d="M425.50,355.00 L436.20,355.00 L435.13,369.26 L433.65,380.36 L432.16,386.20 L431.30,386.70 L430.44,386.20 L428.95,380.36 L426.57,369.26 Z" fill="#a27a34"/>
<path d="M428.50,357.00 L433.20,357.00 L432.16,380.36 L430.44,380.36 Z" fill="#ac8640" opacity="0.6"/>
<rect x="425.50" y="355.00" width="10.70" height="1.4" fill="#7a5420"/>
<rect x="465.40" y="338.70" width="14.90" height="2.70" fill="#ebe9e2"/>
<rect x="466.80" y="341.40" width="12.60" height="12.90" fill="#e9e7df"/>
<rect x="466.80" y="341.40" width="1" height="12.90" fill="#d6d6d0"/>
<rect x="478.40" y="341.40" width="1" height="12.90" fill="#d6d6d0"/>
<path d="M467.50,354.30 L478.70,354.30 L477.58,368.56 L475.36,379.66 L473.80,385.50 L472.90,386.00 L472.00,385.50 L470.44,379.66 L468.62,368.56 Z" fill="#a01c3c"/>
<path d="M470.64,356.30 L475.56,356.30 L473.80,379.66 L472.00,379.66 Z" fill="#aa2646" opacity="0.6"/>
<rect x="467.50" y="354.30" width="11.20" height="1.4" fill="#7c1028"/>
<rect x="503.30" y="338.50" width="15.50" height="2.70" fill="#ebe9e2"/>
<rect x="505.30" y="341.20" width="12.20" height="13.10" fill="#e9e7df"/>
<rect x="505.30" y="341.20" width="1" height="13.10" fill="#d6d6d0"/>
<rect x="516.50" y="341.20" width="1" height="13.10" fill="#d6d6d0"/>
<path d="M506.00,354.30 L516.80,354.30 L515.72,368.30 L514.38,379.18 L512.86,384.90 L512.00,385.40 L511.14,384.90 L509.62,379.18 L507.08,368.30 Z" fill="#901434"/>
<path d="M509.02,356.30 L513.78,356.30 L512.86,379.18 L511.14,379.18 Z" fill="#9a1e3e" opacity="0.6"/>
<rect x="506.00" y="354.30" width="10.80" height="1.4" fill="#701028"/>
</svg></body></html>
